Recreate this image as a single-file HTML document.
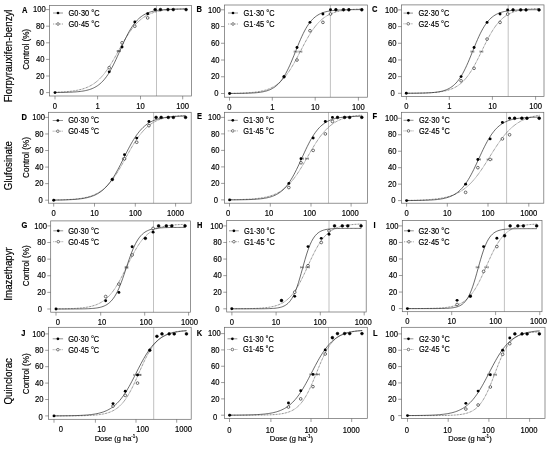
<!DOCTYPE html>
<html lang="en">
<head>
<meta charset="utf-8">
<title>Dose-response curves</title>
<style>
html,body{margin:0;padding:0;background:#fff;}
body{width:550px;height:449px;overflow:hidden;}
svg{display:block;font-family:"Liberation Sans",sans-serif;fill:#000;}
svg text{fill:#000;stroke:#000;stroke-width:0.18px;}
</style>
</head>
<body>
<svg width="550" height="449" viewBox="0 0 550 449">
<rect x="0" y="0" width="550" height="449" fill="#fff"/>
<g id="pA">
<line x1="156.5" y1="5.45" x2="156.5" y2="96" stroke="#bababa" stroke-width="0.9"/>
<polyline points="55,92.52 56.33,92.51 57.65,92.5 58.98,92.48 60.31,92.46 61.63,92.44 62.96,92.42 64.29,92.39 65.62,92.36 66.94,92.32 68.27,92.28 69.6,92.23 70.92,92.17 72.25,92.11 73.58,92.03 74.9,91.95 76.23,91.85 77.56,91.73 78.89,91.6 80.21,91.45 81.54,91.28 82.87,91.08 84.19,90.85 85.52,90.59 86.85,90.29 88.17,89.94 89.5,89.55 90.83,89.1 92.15,88.59 93.48,88 94.81,87.34 96.14,86.59 97.46,85.75 98.79,84.79 100.12,83.72 101.44,82.52 102.77,81.18 104.1,79.7 105.42,78.06 106.75,76.27 108.08,74.31 109.41,72.18 110.73,69.9 112.06,67.46 113.39,64.88 114.71,62.17 116.04,59.35 117.37,56.45 118.69,53.5 120.02,50.51 121.35,47.53 122.68,44.58 124,41.69 125.33,38.9 126.66,36.21 127.98,33.65 129.31,31.24 130.64,28.98 131.96,26.88 133.29,24.95 134.62,23.19 135.94,21.58 137.27,20.12 138.6,18.81 139.93,17.63 141.25,16.58 142.58,15.64 143.91,14.81 145.23,14.08 146.56,13.43 147.89,12.86 149.21,12.36 150.54,11.92 151.87,11.54 153.2,11.2 154.52,10.91 155.85,10.65 157.18,10.43 158.5,10.24 159.83,10.07 161.16,9.92 162.48,9.79 163.81,9.68 165.14,9.58 166.46,9.5 167.79,9.42 169.12,9.36 170.45,9.31 171.77,9.26 173.1,9.22 174.43,9.18 175.75,9.15 177.08,9.12 178.41,9.1 179.73,9.08 181.06,9.06 182.39,9.04 183.72,9.03 185.04,9.02 186.37,9.01" fill="none" stroke="#1a1a1a" stroke-width="0.65"/>
<polyline points="55,92.25 56.33,92.2 57.65,92.15 58.98,92.1 60.31,92.04 61.63,91.97 62.96,91.9 64.29,91.82 65.62,91.72 66.94,91.62 68.27,91.5 69.6,91.37 70.92,91.22 72.25,91.06 73.58,90.88 74.9,90.68 76.23,90.45 77.56,90.2 78.89,89.92 80.21,89.61 81.54,89.26 82.87,88.88 84.19,88.45 85.52,87.98 86.85,87.45 88.17,86.87 89.5,86.23 90.83,85.53 92.15,84.76 93.48,83.91 94.81,82.98 96.14,81.97 97.46,80.87 98.79,79.67 100.12,78.37 101.44,76.97 102.77,75.47 104.1,73.87 105.42,72.16 106.75,70.35 108.08,68.43 109.41,66.43 110.73,64.33 112.06,62.16 113.39,59.91 114.71,57.61 116.04,55.26 117.37,52.89 118.69,50.5 120.02,48.11 121.35,45.73 122.68,43.39 124,41.09 125.33,38.85 126.66,36.68 127.98,34.59 129.31,32.59 130.64,30.69 131.96,28.88 133.29,27.18 134.62,25.58 135.94,24.09 137.27,22.7 138.6,21.41 139.93,20.22 141.25,19.12 142.58,18.11 143.91,17.19 145.23,16.35 146.56,15.58 147.89,14.88 149.21,14.25 150.54,13.67 151.87,13.15 153.2,12.68 154.52,12.26 155.85,11.88 157.18,11.53 158.5,11.22 159.83,10.94 161.16,10.69 162.48,10.47 163.81,10.27 165.14,10.09 166.46,9.93 167.79,9.78 169.12,9.65 170.45,9.54 171.77,9.43 173.1,9.34 174.43,9.26 175.75,9.18 177.08,9.12 178.41,9.06 179.73,9 181.06,8.96 182.39,8.91 183.72,8.88 185.04,8.84 186.37,8.81" fill="none" stroke="#1a1a1a" stroke-width="0.65" stroke-dasharray="0.75 0.75"/>
<line x1="117.9" y1="51.1" x2="120.5" y2="51.1" stroke="#555" stroke-width="0.5"/>
<line x1="117.9" y1="50.1" x2="117.9" y2="52.1" stroke="#555" stroke-width="0.5"/>
<line x1="120.5" y1="50.1" x2="120.5" y2="52.1" stroke="#555" stroke-width="0.5"/>
<line x1="118.3" y1="50.2" x2="120.1" y2="52" stroke="#555" stroke-width="0.45"/>
<line x1="118.3" y1="52" x2="120.1" y2="50.2" stroke="#555" stroke-width="0.45"/>
<line x1="117.1" y1="51.1" x2="119.7" y2="51.1" stroke="#555" stroke-width="0.5"/>
<line x1="117.1" y1="50.1" x2="117.1" y2="52.1" stroke="#555" stroke-width="0.5"/>
<line x1="119.7" y1="50.1" x2="119.7" y2="52.1" stroke="#555" stroke-width="0.5"/>
<line x1="117.5" y1="50.2" x2="119.3" y2="52" stroke="#555" stroke-width="0.45"/>
<line x1="117.5" y1="52" x2="119.3" y2="50.2" stroke="#555" stroke-width="0.45"/>
<circle cx="55" cy="92.6" r="1.45" fill="#000"/>
<circle cx="109.22" cy="67.7" r="1.35" fill="#fff" stroke="#111" stroke-width="0.6"/>
<circle cx="122.03" cy="42.8" r="1.35" fill="#fff" stroke="#111" stroke-width="0.6"/>
<circle cx="134.83" cy="26.2" r="1.35" fill="#fff" stroke="#111" stroke-width="0.6"/>
<circle cx="147.64" cy="17.9" r="1.35" fill="#fff" stroke="#111" stroke-width="0.6"/>
<circle cx="155.14" cy="9.6" r="1.35" fill="#fff" stroke="#111" stroke-width="0.6"/>
<circle cx="160.45" cy="9.6" r="1.35" fill="#fff" stroke="#111" stroke-width="0.6"/>
<circle cx="167.94" cy="9.6" r="1.35" fill="#fff" stroke="#111" stroke-width="0.6"/>
<circle cx="173.26" cy="9.6" r="1.35" fill="#fff" stroke="#111" stroke-width="0.6"/>
<circle cx="186.07" cy="9.6" r="1.35" fill="#fff" stroke="#111" stroke-width="0.6"/>
<circle cx="109.22" cy="71.85" r="1.45" fill="#000"/>
<circle cx="122.03" cy="46.95" r="1.45" fill="#000"/>
<circle cx="134.83" cy="22.05" r="1.45" fill="#000"/>
<circle cx="147.64" cy="13.75" r="1.45" fill="#000"/>
<circle cx="155.14" cy="9.6" r="1.45" fill="#000"/>
<circle cx="160.45" cy="9.6" r="1.45" fill="#000"/>
<circle cx="167.94" cy="9.6" r="1.45" fill="#000"/>
<circle cx="173.26" cy="9.6" r="1.45" fill="#000"/>
<circle cx="186.07" cy="9.6" r="1.45" fill="#000"/>
<rect x="49.5" y="5.45" width="142" height="90.55" fill="none" stroke="#666" stroke-width="0.7"/>
<line x1="46.1" y1="92.6" x2="49.5" y2="92.6" stroke="#5a5a5a" stroke-width="0.6"/>
<text transform="translate(43.7 95.3) scale(0.86 1)" font-size="8.9" text-anchor="end">0</text>
<line x1="46.1" y1="76" x2="49.5" y2="76" stroke="#5a5a5a" stroke-width="0.6"/>
<text transform="translate(44.5 78.7) scale(0.86 1)" font-size="8.9" text-anchor="end">20</text>
<line x1="46.1" y1="59.4" x2="49.5" y2="59.4" stroke="#5a5a5a" stroke-width="0.6"/>
<text transform="translate(44.5 62.1) scale(0.86 1)" font-size="8.9" text-anchor="end">40</text>
<line x1="46.1" y1="42.8" x2="49.5" y2="42.8" stroke="#5a5a5a" stroke-width="0.6"/>
<text transform="translate(44.5 45.5) scale(0.86 1)" font-size="8.9" text-anchor="end">60</text>
<line x1="46.1" y1="26.2" x2="49.5" y2="26.2" stroke="#5a5a5a" stroke-width="0.6"/>
<text transform="translate(44.5 28.9) scale(0.86 1)" font-size="8.9" text-anchor="end">80</text>
<line x1="46.1" y1="9.6" x2="49.5" y2="9.6" stroke="#5a5a5a" stroke-width="0.6"/>
<text transform="translate(45.8 12.3) scale(0.86 1)" font-size="8.9" text-anchor="end">100</text>
<line x1="55" y1="96" x2="55" y2="99.4" stroke="#5a5a5a" stroke-width="0.6"/>
<text transform="translate(55 108.6) scale(0.86 1)" font-size="8.9" text-anchor="middle">0</text>
<line x1="97.6" y1="96" x2="97.6" y2="99.4" stroke="#5a5a5a" stroke-width="0.6"/>
<text transform="translate(97.6 108.6) scale(0.86 1)" font-size="8.9" text-anchor="middle">1</text>
<line x1="140.5" y1="96" x2="140.5" y2="99.4" stroke="#5a5a5a" stroke-width="0.6"/>
<text transform="translate(140.5 108.6) scale(0.86 1)" font-size="8.9" text-anchor="middle">10</text>
<line x1="182.7" y1="96" x2="182.7" y2="99.4" stroke="#5a5a5a" stroke-width="0.6"/>
<text transform="translate(182.7 108.6) scale(0.86 1)" font-size="8.9" text-anchor="middle">100</text>
<line x1="53" y1="13" x2="63" y2="13" stroke="#5a5a5a" stroke-width="0.65"/>
<circle cx="58" cy="13" r="1.35" fill="#000"/>
<line x1="53" y1="24" x2="63" y2="24" stroke="#6a6a6a" stroke-width="0.65" stroke-dasharray="1 0.8"/>
<circle cx="58" cy="24" r="1.3" fill="#fff" stroke="#111" stroke-width="0.55"/>
<text transform="translate(68.6 15.9) scale(0.88 1)" font-size="8.4" text-anchor="start">G0·30 °C</text>
<text transform="translate(68.6 26.9) scale(0.88 1)" font-size="8.4" text-anchor="start">G0·45 °C</text>
<text transform="translate(22 12.9) scale(0.8 1)" font-size="9.4" text-anchor="start" font-weight="bold">A</text>
</g>
<g id="pB">
<line x1="330.4" y1="5" x2="330.4" y2="97.2" stroke="#bababa" stroke-width="0.9"/>
<polyline points="229.6,93.47 230.94,93.46 232.28,93.46 233.62,93.45 234.95,93.44 236.29,93.43 237.63,93.42 238.97,93.4 240.31,93.38 241.65,93.36 242.98,93.34 244.32,93.31 245.66,93.28 247,93.24 248.34,93.2 249.68,93.14 251.02,93.08 252.35,93.01 253.69,92.93 255.03,92.83 256.37,92.72 257.71,92.58 259.05,92.43 260.38,92.24 261.72,92.03 263.06,91.78 264.4,91.49 265.74,91.15 267.08,90.76 268.42,90.3 269.75,89.77 271.09,89.16 272.43,88.46 273.77,87.65 275.11,86.72 276.45,85.66 277.79,84.45 279.12,83.08 280.46,81.53 281.8,79.8 283.14,77.87 284.48,75.74 285.82,73.41 287.15,70.87 288.49,68.14 289.83,65.24 291.17,62.17 292.51,58.99 293.85,55.71 295.19,52.37 296.52,49.03 297.86,45.72 299.2,42.48 300.54,39.35 301.88,36.36 303.22,33.54 304.55,30.91 305.89,28.47 307.23,26.24 308.57,24.21 309.91,22.38 311.25,20.74 312.59,19.28 313.92,18 315.26,16.86 316.6,15.87 317.94,15 319.28,14.24 320.62,13.58 321.95,13.02 323.29,12.53 324.63,12.1 325.97,11.74 327.31,11.42 328.65,11.15 329.99,10.92 331.32,10.73 332.66,10.56 334,10.41 335.34,10.29 336.68,10.18 338.02,10.09 339.35,10.01 340.69,9.95 342.03,9.89 343.37,9.84 344.71,9.8 346.05,9.77 347.39,9.74 348.72,9.71 350.06,9.69 351.4,9.67 352.74,9.65 354.08,9.64 355.42,9.63 356.75,9.62 358.09,9.61 359.43,9.6 360.77,9.6 362.11,9.59" fill="none" stroke="#1a1a1a" stroke-width="0.65"/>
<polyline points="229.6,93.36 230.94,93.34 232.28,93.32 233.62,93.3 234.95,93.27 236.29,93.25 237.63,93.21 238.97,93.18 240.31,93.14 241.65,93.09 242.98,93.04 244.32,92.98 245.66,92.91 247,92.83 248.34,92.75 249.68,92.65 251.02,92.55 252.35,92.43 253.69,92.29 255.03,92.14 256.37,91.96 257.71,91.77 259.05,91.55 260.38,91.31 261.72,91.03 263.06,90.73 264.4,90.38 265.74,90 267.08,89.57 268.42,89.09 269.75,88.56 271.09,87.96 272.43,87.3 273.77,86.57 275.11,85.76 276.45,84.86 277.79,83.88 279.12,82.79 280.46,81.61 281.8,80.32 283.14,78.91 284.48,77.39 285.82,75.75 287.15,74 288.49,72.12 289.83,70.13 291.17,68.02 292.51,65.81 293.85,63.51 295.19,61.12 296.52,58.67 297.86,56.16 299.2,53.61 300.54,51.05 301.88,48.49 303.22,45.94 304.55,43.44 305.89,40.98 307.23,38.6 308.57,36.3 309.91,34.09 311.25,31.99 312.59,30 313.92,28.13 315.26,26.37 316.6,24.74 317.94,23.22 319.28,21.82 320.62,20.53 321.95,19.35 323.29,18.27 324.63,17.29 325.97,16.4 327.31,15.59 328.65,14.86 329.99,14.2 331.32,13.61 332.66,13.07 334,12.59 335.34,12.17 336.68,11.78 338.02,11.44 339.35,11.13 340.69,10.86 342.03,10.62 343.37,10.4 344.71,10.21 346.05,10.04 347.39,9.88 348.72,9.75 350.06,9.63 351.4,9.52 352.74,9.42 354.08,9.34 355.42,9.26 356.75,9.2 358.09,9.14 359.43,9.09 360.77,9.04 362.11,9" fill="none" stroke="#1a1a1a" stroke-width="0.65" stroke-dasharray="0.75 0.75"/>
<line x1="294.1" y1="51.65" x2="297.1" y2="51.65" stroke="#555" stroke-width="0.5"/>
<line x1="294.1" y1="50.65" x2="294.1" y2="52.65" stroke="#555" stroke-width="0.5"/>
<line x1="297.1" y1="50.65" x2="297.1" y2="52.65" stroke="#555" stroke-width="0.5"/>
<line x1="294.7" y1="50.75" x2="296.5" y2="52.55" stroke="#555" stroke-width="0.45"/>
<line x1="294.7" y1="52.55" x2="296.5" y2="50.75" stroke="#555" stroke-width="0.45"/>
<line x1="298.9" y1="51.65" x2="301.9" y2="51.65" stroke="#555" stroke-width="0.5"/>
<line x1="298.9" y1="50.65" x2="298.9" y2="52.65" stroke="#555" stroke-width="0.5"/>
<line x1="301.9" y1="50.65" x2="301.9" y2="52.65" stroke="#555" stroke-width="0.5"/>
<line x1="299.5" y1="50.75" x2="301.3" y2="52.55" stroke="#555" stroke-width="0.45"/>
<line x1="299.5" y1="52.55" x2="301.3" y2="50.75" stroke="#555" stroke-width="0.45"/>
<circle cx="229.6" cy="93.5" r="1.45" fill="#000"/>
<circle cx="284.05" cy="76.76" r="1.35" fill="#fff" stroke="#111" stroke-width="0.6"/>
<circle cx="297.01" cy="60.02" r="1.35" fill="#fff" stroke="#111" stroke-width="0.6"/>
<circle cx="309.97" cy="30.72" r="1.35" fill="#fff" stroke="#111" stroke-width="0.6"/>
<circle cx="322.93" cy="22.35" r="1.35" fill="#fff" stroke="#111" stroke-width="0.6"/>
<circle cx="330.51" cy="13.98" r="1.35" fill="#fff" stroke="#111" stroke-width="0.6"/>
<circle cx="335.89" cy="9.8" r="1.35" fill="#fff" stroke="#111" stroke-width="0.6"/>
<circle cx="343.47" cy="9.8" r="1.35" fill="#fff" stroke="#111" stroke-width="0.6"/>
<circle cx="348.85" cy="9.8" r="1.35" fill="#fff" stroke="#111" stroke-width="0.6"/>
<circle cx="361.81" cy="9.8" r="1.35" fill="#fff" stroke="#111" stroke-width="0.6"/>
<circle cx="284.05" cy="76.76" r="1.45" fill="#000"/>
<circle cx="297.01" cy="47.46" r="1.45" fill="#000"/>
<circle cx="309.97" cy="22.35" r="1.45" fill="#000"/>
<circle cx="322.93" cy="13.98" r="1.45" fill="#000"/>
<circle cx="330.51" cy="9.8" r="1.45" fill="#000"/>
<circle cx="335.89" cy="9.8" r="1.45" fill="#000"/>
<circle cx="343.47" cy="9.8" r="1.45" fill="#000"/>
<circle cx="348.85" cy="9.8" r="1.45" fill="#000"/>
<circle cx="361.81" cy="9.8" r="1.45" fill="#000"/>
<rect x="224.4" y="5" width="143" height="92.2" fill="none" stroke="#666" stroke-width="0.7"/>
<line x1="221" y1="93.5" x2="224.4" y2="93.5" stroke="#5a5a5a" stroke-width="0.6"/>
<text transform="translate(218.6 96.2) scale(0.86 1)" font-size="8.9" text-anchor="end">0</text>
<line x1="221" y1="76.76" x2="224.4" y2="76.76" stroke="#5a5a5a" stroke-width="0.6"/>
<text transform="translate(219.4 79.46) scale(0.86 1)" font-size="8.9" text-anchor="end">20</text>
<line x1="221" y1="60.02" x2="224.4" y2="60.02" stroke="#5a5a5a" stroke-width="0.6"/>
<text transform="translate(219.4 62.72) scale(0.86 1)" font-size="8.9" text-anchor="end">40</text>
<line x1="221" y1="43.28" x2="224.4" y2="43.28" stroke="#5a5a5a" stroke-width="0.6"/>
<text transform="translate(219.4 45.98) scale(0.86 1)" font-size="8.9" text-anchor="end">60</text>
<line x1="221" y1="26.54" x2="224.4" y2="26.54" stroke="#5a5a5a" stroke-width="0.6"/>
<text transform="translate(219.4 29.24) scale(0.86 1)" font-size="8.9" text-anchor="end">80</text>
<line x1="221" y1="9.8" x2="224.4" y2="9.8" stroke="#5a5a5a" stroke-width="0.6"/>
<text transform="translate(220.7 12.5) scale(0.86 1)" font-size="8.9" text-anchor="end">100</text>
<line x1="229.5" y1="97.2" x2="229.5" y2="100.6" stroke="#5a5a5a" stroke-width="0.6"/>
<text transform="translate(229.5 109.7) scale(0.86 1)" font-size="8.9" text-anchor="middle">0</text>
<line x1="272.3" y1="97.2" x2="272.3" y2="100.6" stroke="#5a5a5a" stroke-width="0.6"/>
<text transform="translate(272.3 109.7) scale(0.86 1)" font-size="8.9" text-anchor="middle">1</text>
<line x1="315.2" y1="97.2" x2="315.2" y2="100.6" stroke="#5a5a5a" stroke-width="0.6"/>
<text transform="translate(315.2 109.7) scale(0.86 1)" font-size="8.9" text-anchor="middle">10</text>
<line x1="358.4" y1="97.2" x2="358.4" y2="100.6" stroke="#5a5a5a" stroke-width="0.6"/>
<text transform="translate(358.4 109.7) scale(0.86 1)" font-size="8.9" text-anchor="middle">100</text>
<line x1="228" y1="13" x2="238" y2="13" stroke="#5a5a5a" stroke-width="0.65"/>
<circle cx="233" cy="13" r="1.35" fill="#000"/>
<line x1="228" y1="24" x2="238" y2="24" stroke="#6a6a6a" stroke-width="0.65" stroke-dasharray="1 0.8"/>
<circle cx="233" cy="24" r="1.3" fill="#fff" stroke="#111" stroke-width="0.55"/>
<text transform="translate(243.6 15.9) scale(0.88 1)" font-size="8.4" text-anchor="start">G1·30 °C</text>
<text transform="translate(243.6 26.9) scale(0.88 1)" font-size="8.4" text-anchor="start">G1·45 °C</text>
<text transform="translate(196.6 12.3) scale(0.8 1)" font-size="9.4" text-anchor="start" font-weight="bold">B</text>
</g>
<g id="pC">
<line x1="508.2" y1="4.9" x2="508.2" y2="96.4" stroke="#bababa" stroke-width="0.9"/>
<polyline points="406.3,93.27 407.64,93.26 408.99,93.26 410.33,93.25 411.67,93.24 413.02,93.23 414.36,93.22 415.71,93.2 417.05,93.19 418.39,93.17 419.74,93.14 421.08,93.12 422.42,93.08 423.77,93.05 425.11,93 426.45,92.95 427.8,92.89 429.14,92.82 430.48,92.74 431.83,92.65 433.17,92.53 434.52,92.4 435.86,92.25 437.2,92.07 438.55,91.86 439.89,91.62 441.23,91.33 442.58,91 443.92,90.61 445.26,90.17 446.61,89.65 447.95,89.05 449.3,88.35 450.64,87.56 451.98,86.64 453.33,85.59 454.67,84.4 456.01,83.05 457.36,81.52 458.7,79.81 460.04,77.91 461.39,75.8 462.73,73.49 464.07,70.98 465.42,68.27 466.76,65.38 468.11,62.34 469.45,59.16 470.79,55.9 472.14,52.57 473.48,49.24 474.82,45.93 476.17,42.69 477.51,39.56 478.85,36.57 480.2,33.74 481.54,31.1 482.89,28.65 484.23,26.41 485.57,24.37 486.92,22.54 488.26,20.89 489.6,19.43 490.95,18.13 492.29,16.99 493.63,15.99 494.98,15.12 496.32,14.36 497.66,13.7 499.01,13.13 500.35,12.64 501.7,12.21 503.04,11.84 504.38,11.53 505.73,11.26 507.07,11.03 508.41,10.83 509.76,10.66 511.1,10.51 512.44,10.39 513.79,10.28 515.13,10.19 516.48,10.11 517.82,10.05 519.16,9.99 520.51,9.94 521.85,9.9 523.19,9.87 524.54,9.84 525.88,9.81 527.22,9.79 528.57,9.77 529.91,9.76 531.26,9.74 532.6,9.73 533.94,9.72 535.29,9.71 536.63,9.71 537.97,9.7 539.32,9.69" fill="none" stroke="#1a1a1a" stroke-width="0.65"/>
<polyline points="406.3,93.24 407.64,93.23 408.99,93.23 410.33,93.22 411.67,93.2 413.02,93.19 414.36,93.17 415.71,93.16 417.05,93.14 418.39,93.12 419.74,93.09 421.08,93.06 422.42,93.03 423.77,92.99 425.11,92.95 426.45,92.9 427.8,92.84 429.14,92.78 430.48,92.71 431.83,92.63 433.17,92.54 434.52,92.43 435.86,92.31 437.2,92.18 438.55,92.02 439.89,91.85 441.23,91.65 442.58,91.43 443.92,91.18 445.26,90.89 446.61,90.57 447.95,90.21 449.3,89.79 450.64,89.33 451.98,88.81 453.33,88.23 454.67,87.57 456.01,86.84 457.36,86.02 458.7,85.11 460.04,84.09 461.39,82.97 462.73,81.74 464.07,80.38 465.42,78.89 466.76,77.27 468.11,75.51 469.45,73.62 470.79,71.59 472.14,69.42 473.48,67.13 474.82,64.72 476.17,62.21 477.51,59.61 478.85,56.93 480.2,54.21 481.54,51.46 482.89,48.7 484.23,45.95 485.57,43.25 486.92,40.61 488.26,38.05 489.6,35.58 490.95,33.23 492.29,31 493.63,28.89 494.98,26.93 496.32,25.1 497.66,23.41 499.01,21.85 500.35,20.43 501.7,19.13 503.04,17.95 504.38,16.88 505.73,15.91 507.07,15.05 508.41,14.27 509.76,13.58 511.1,12.95 512.44,12.4 513.79,11.91 515.13,11.47 516.48,11.08 517.82,10.74 519.16,10.43 520.51,10.17 521.85,9.93 523.19,9.72 524.54,9.53 525.88,9.37 527.22,9.22 528.57,9.1 529.91,8.98 531.26,8.89 532.6,8.8 533.94,8.72 535.29,8.66 536.63,8.6 537.97,8.54 539.32,8.5" fill="none" stroke="#1a1a1a" stroke-width="0.65" stroke-dasharray="0.75 0.75"/>
<line x1="470.9" y1="51.6" x2="473.9" y2="51.6" stroke="#555" stroke-width="0.5"/>
<line x1="470.9" y1="50.6" x2="470.9" y2="52.6" stroke="#555" stroke-width="0.5"/>
<line x1="473.9" y1="50.6" x2="473.9" y2="52.6" stroke="#555" stroke-width="0.5"/>
<line x1="471.5" y1="50.7" x2="473.3" y2="52.5" stroke="#555" stroke-width="0.45"/>
<line x1="471.5" y1="52.5" x2="473.3" y2="50.7" stroke="#555" stroke-width="0.45"/>
<line x1="479.9" y1="51.6" x2="482.9" y2="51.6" stroke="#555" stroke-width="0.5"/>
<line x1="479.9" y1="50.6" x2="479.9" y2="52.6" stroke="#555" stroke-width="0.5"/>
<line x1="482.9" y1="50.6" x2="482.9" y2="52.6" stroke="#555" stroke-width="0.5"/>
<line x1="480.5" y1="50.7" x2="482.3" y2="52.5" stroke="#555" stroke-width="0.45"/>
<line x1="480.5" y1="52.5" x2="482.3" y2="50.7" stroke="#555" stroke-width="0.45"/>
<circle cx="406.3" cy="93.3" r="1.45" fill="#000"/>
<circle cx="461.08" cy="80.79" r="1.35" fill="#fff" stroke="#111" stroke-width="0.6"/>
<circle cx="474.07" cy="68.28" r="1.35" fill="#fff" stroke="#111" stroke-width="0.6"/>
<circle cx="487.06" cy="39.09" r="1.35" fill="#fff" stroke="#111" stroke-width="0.6"/>
<circle cx="500.05" cy="22.41" r="1.35" fill="#fff" stroke="#111" stroke-width="0.6"/>
<circle cx="507.65" cy="14.07" r="1.35" fill="#fff" stroke="#111" stroke-width="0.6"/>
<circle cx="513.04" cy="9.9" r="1.35" fill="#fff" stroke="#111" stroke-width="0.6"/>
<circle cx="520.64" cy="9.9" r="1.35" fill="#fff" stroke="#111" stroke-width="0.6"/>
<circle cx="526.03" cy="9.9" r="1.35" fill="#fff" stroke="#111" stroke-width="0.6"/>
<circle cx="539.02" cy="9.9" r="1.35" fill="#fff" stroke="#111" stroke-width="0.6"/>
<circle cx="461.08" cy="76.62" r="1.45" fill="#000"/>
<circle cx="474.07" cy="47.43" r="1.45" fill="#000"/>
<circle cx="487.06" cy="22.41" r="1.45" fill="#000"/>
<circle cx="500.05" cy="14.07" r="1.45" fill="#000"/>
<circle cx="507.65" cy="9.9" r="1.45" fill="#000"/>
<circle cx="513.04" cy="9.9" r="1.45" fill="#000"/>
<circle cx="520.64" cy="9.9" r="1.45" fill="#000"/>
<circle cx="526.03" cy="9.9" r="1.45" fill="#000"/>
<circle cx="539.02" cy="9.9" r="1.45" fill="#000"/>
<rect x="401.4" y="4.9" width="142.6" height="91.5" fill="none" stroke="#666" stroke-width="0.7"/>
<line x1="398" y1="93.3" x2="401.4" y2="93.3" stroke="#5a5a5a" stroke-width="0.6"/>
<text transform="translate(394.8 96) scale(0.86 1)" font-size="8.9" text-anchor="end">0</text>
<line x1="398" y1="76.62" x2="401.4" y2="76.62" stroke="#5a5a5a" stroke-width="0.6"/>
<text transform="translate(396.4 79.32) scale(0.86 1)" font-size="8.9" text-anchor="end">20</text>
<line x1="398" y1="59.94" x2="401.4" y2="59.94" stroke="#5a5a5a" stroke-width="0.6"/>
<text transform="translate(396.4 62.64) scale(0.86 1)" font-size="8.9" text-anchor="end">40</text>
<line x1="398" y1="43.26" x2="401.4" y2="43.26" stroke="#5a5a5a" stroke-width="0.6"/>
<text transform="translate(396.4 45.96) scale(0.86 1)" font-size="8.9" text-anchor="end">60</text>
<line x1="398" y1="26.58" x2="401.4" y2="26.58" stroke="#5a5a5a" stroke-width="0.6"/>
<text transform="translate(396.4 29.28) scale(0.86 1)" font-size="8.9" text-anchor="end">80</text>
<line x1="398" y1="9.9" x2="401.4" y2="9.9" stroke="#5a5a5a" stroke-width="0.6"/>
<text transform="translate(397.7 12.6) scale(0.86 1)" font-size="8.9" text-anchor="end">100</text>
<line x1="406.4" y1="96.4" x2="406.4" y2="99.8" stroke="#5a5a5a" stroke-width="0.6"/>
<text transform="translate(406.4 109) scale(0.86 1)" font-size="8.9" text-anchor="middle">0</text>
<line x1="449.3" y1="96.4" x2="449.3" y2="99.8" stroke="#5a5a5a" stroke-width="0.6"/>
<text transform="translate(449.3 109) scale(0.86 1)" font-size="8.9" text-anchor="middle">1</text>
<line x1="492.4" y1="96.4" x2="492.4" y2="99.8" stroke="#5a5a5a" stroke-width="0.6"/>
<text transform="translate(492.4 109) scale(0.86 1)" font-size="8.9" text-anchor="middle">10</text>
<line x1="535.6" y1="96.4" x2="535.6" y2="99.8" stroke="#5a5a5a" stroke-width="0.6"/>
<text transform="translate(535.6 109) scale(0.86 1)" font-size="8.9" text-anchor="middle">100</text>
<line x1="403.5" y1="13.1" x2="413" y2="13.1" stroke="#5a5a5a" stroke-width="0.65"/>
<circle cx="408.25" cy="13.1" r="1.35" fill="#000"/>
<line x1="403.5" y1="23.8" x2="413" y2="23.8" stroke="#6a6a6a" stroke-width="0.65" stroke-dasharray="1 0.8"/>
<circle cx="408.25" cy="23.8" r="1.3" fill="#fff" stroke="#111" stroke-width="0.55"/>
<text transform="translate(418.5 16) scale(0.88 1)" font-size="8.4" text-anchor="start">G2·30 °C</text>
<text transform="translate(418.5 26.7) scale(0.88 1)" font-size="8.4" text-anchor="start">G2·45 °C</text>
<text transform="translate(372.1 12.4) scale(0.8 1)" font-size="9.4" text-anchor="start" font-weight="bold">C</text>
</g>
<g id="pD">
<line x1="153.6" y1="112.3" x2="153.6" y2="203.2" stroke="#bababa" stroke-width="0.9"/>
<polyline points="53.7,200.09 55.03,200.08 56.37,200.06 57.7,200.04 59.04,200.02 60.37,200 61.71,199.97 63.04,199.94 64.38,199.9 65.71,199.86 67.05,199.82 68.38,199.76 69.72,199.7 71.05,199.64 72.39,199.56 73.72,199.48 75.06,199.38 76.39,199.27 77.73,199.15 79.06,199.01 80.4,198.85 81.73,198.67 83.07,198.47 84.4,198.24 85.74,197.98 87.07,197.69 88.41,197.36 89.74,196.99 91.08,196.58 92.41,196.11 93.75,195.59 95.08,195.01 96.42,194.35 97.75,193.62 99.09,192.81 100.42,191.91 101.76,190.91 103.09,189.81 104.43,188.6 105.76,187.28 107.1,185.83 108.43,184.25 109.77,182.55 111.1,180.71 112.44,178.75 113.77,176.66 115.11,174.45 116.44,172.13 117.78,169.7 119.11,167.2 120.45,164.62 121.78,161.99 123.12,159.32 124.45,156.65 125.78,153.99 127.12,151.36 128.45,148.78 129.79,146.27 131.12,143.85 132.46,141.53 133.79,139.33 135.13,137.24 136.46,135.28 137.8,133.45 139.13,131.75 140.47,130.17 141.8,128.73 143.14,127.4 144.47,126.2 145.81,125.1 147.14,124.1 148.48,123.21 149.81,122.4 151.15,121.67 152.48,121.02 153.82,120.43 155.15,119.91 156.49,119.45 157.82,119.04 159.16,118.67 160.49,118.34 161.83,118.05 163.16,117.79 164.5,117.56 165.83,117.36 167.17,117.18 168.5,117.03 169.84,116.89 171.17,116.76 172.51,116.65 173.84,116.56 175.18,116.47 176.51,116.4 177.85,116.33 179.18,116.27 180.52,116.22 181.85,116.18 183.19,116.14 184.52,116.1 185.86,116.07" fill="none" stroke="#1a1a1a" stroke-width="0.65"/>
<polyline points="53.7,200.01 55.03,199.99 56.37,199.96 57.7,199.94 59.04,199.91 60.37,199.87 61.71,199.83 63.04,199.79 64.38,199.74 65.71,199.68 67.05,199.62 68.38,199.55 69.72,199.48 71.05,199.39 72.39,199.29 73.72,199.19 75.06,199.07 76.39,198.93 77.73,198.78 79.06,198.62 80.4,198.43 81.73,198.23 83.07,197.99 84.4,197.74 85.74,197.45 87.07,197.14 88.41,196.78 89.74,196.39 91.08,195.96 92.41,195.48 93.75,194.95 95.08,194.37 96.42,193.72 97.75,193.01 99.09,192.23 100.42,191.37 101.76,190.44 103.09,189.42 104.43,188.31 105.76,187.1 107.1,185.8 108.43,184.39 109.77,182.88 111.1,181.27 112.44,179.55 113.77,177.73 115.11,175.81 116.44,173.79 117.78,171.69 119.11,169.5 120.45,167.25 121.78,164.93 123.12,162.57 124.45,160.18 125.78,157.77 127.12,155.36 128.45,152.97 129.79,150.6 131.12,148.27 132.46,146 133.79,143.8 135.13,141.68 136.46,139.65 137.8,137.71 139.13,135.87 140.47,134.13 141.8,132.5 143.14,130.97 144.47,129.54 145.81,128.22 147.14,126.99 148.48,125.86 149.81,124.83 151.15,123.87 152.48,123 153.82,122.21 155.15,121.48 156.49,120.83 157.82,120.23 159.16,119.69 160.49,119.2 161.83,118.76 163.16,118.36 164.5,118 165.83,117.67 167.17,117.38 168.5,117.12 169.84,116.89 171.17,116.68 172.51,116.49 173.84,116.32 175.18,116.16 176.51,116.03 177.85,115.9 179.18,115.79 180.52,115.7 181.85,115.61 183.19,115.53 184.52,115.46 185.86,115.4" fill="none" stroke="#1a1a1a" stroke-width="0.65" stroke-dasharray="0.75 0.75"/>
<line x1="122.4" y1="158.8" x2="124.8" y2="158.8" stroke="#555" stroke-width="0.5"/>
<line x1="122.4" y1="157.8" x2="122.4" y2="159.8" stroke="#555" stroke-width="0.5"/>
<line x1="124.8" y1="157.8" x2="124.8" y2="159.8" stroke="#555" stroke-width="0.5"/>
<line x1="122.7" y1="157.9" x2="124.5" y2="159.7" stroke="#555" stroke-width="0.45"/>
<line x1="122.7" y1="159.7" x2="124.5" y2="157.9" stroke="#555" stroke-width="0.45"/>
<line x1="123.2" y1="158.8" x2="125.6" y2="158.8" stroke="#555" stroke-width="0.5"/>
<line x1="123.2" y1="157.8" x2="123.2" y2="159.8" stroke="#555" stroke-width="0.5"/>
<line x1="125.6" y1="157.8" x2="125.6" y2="159.8" stroke="#555" stroke-width="0.5"/>
<line x1="123.5" y1="157.9" x2="125.3" y2="159.7" stroke="#555" stroke-width="0.45"/>
<line x1="123.5" y1="159.7" x2="125.3" y2="157.9" stroke="#555" stroke-width="0.45"/>
<circle cx="53.7" cy="200.2" r="1.45" fill="#000"/>
<circle cx="112.31" cy="179.5" r="1.35" fill="#fff" stroke="#111" stroke-width="0.6"/>
<circle cx="124.52" cy="158.8" r="1.35" fill="#fff" stroke="#111" stroke-width="0.6"/>
<circle cx="136.73" cy="142.24" r="1.35" fill="#fff" stroke="#111" stroke-width="0.6"/>
<circle cx="148.94" cy="125.68" r="1.35" fill="#fff" stroke="#111" stroke-width="0.6"/>
<circle cx="156.08" cy="117.4" r="1.35" fill="#fff" stroke="#111" stroke-width="0.6"/>
<circle cx="161.14" cy="117.4" r="1.35" fill="#fff" stroke="#111" stroke-width="0.6"/>
<circle cx="168.28" cy="117.4" r="1.35" fill="#fff" stroke="#111" stroke-width="0.6"/>
<circle cx="173.35" cy="117.4" r="1.35" fill="#fff" stroke="#111" stroke-width="0.6"/>
<circle cx="185.56" cy="117.4" r="1.35" fill="#fff" stroke="#111" stroke-width="0.6"/>
<circle cx="112.31" cy="179.5" r="1.45" fill="#000"/>
<circle cx="124.52" cy="154.66" r="1.45" fill="#000"/>
<circle cx="136.73" cy="138.1" r="1.45" fill="#000"/>
<circle cx="148.94" cy="121.54" r="1.45" fill="#000"/>
<circle cx="156.08" cy="117.4" r="1.45" fill="#000"/>
<circle cx="161.14" cy="117.4" r="1.45" fill="#000"/>
<circle cx="168.28" cy="117.4" r="1.45" fill="#000"/>
<circle cx="173.35" cy="117.4" r="1.45" fill="#000"/>
<circle cx="185.56" cy="117.4" r="1.45" fill="#000"/>
<rect x="48.6" y="112.3" width="142.6" height="90.9" fill="none" stroke="#666" stroke-width="0.7"/>
<line x1="45.2" y1="200.2" x2="48.6" y2="200.2" stroke="#5a5a5a" stroke-width="0.6"/>
<text transform="translate(42.8 202.9) scale(0.86 1)" font-size="8.9" text-anchor="end">0</text>
<line x1="45.2" y1="183.64" x2="48.6" y2="183.64" stroke="#5a5a5a" stroke-width="0.6"/>
<text transform="translate(43.6 186.34) scale(0.86 1)" font-size="8.9" text-anchor="end">20</text>
<line x1="45.2" y1="167.08" x2="48.6" y2="167.08" stroke="#5a5a5a" stroke-width="0.6"/>
<text transform="translate(43.6 169.78) scale(0.86 1)" font-size="8.9" text-anchor="end">40</text>
<line x1="45.2" y1="150.52" x2="48.6" y2="150.52" stroke="#5a5a5a" stroke-width="0.6"/>
<text transform="translate(43.6 153.22) scale(0.86 1)" font-size="8.9" text-anchor="end">60</text>
<line x1="45.2" y1="133.96" x2="48.6" y2="133.96" stroke="#5a5a5a" stroke-width="0.6"/>
<text transform="translate(43.6 136.66) scale(0.86 1)" font-size="8.9" text-anchor="end">80</text>
<line x1="45.2" y1="117.4" x2="48.6" y2="117.4" stroke="#5a5a5a" stroke-width="0.6"/>
<text transform="translate(44.9 120.1) scale(0.86 1)" font-size="8.9" text-anchor="end">100</text>
<line x1="53.7" y1="203.2" x2="53.7" y2="206.6" stroke="#5a5a5a" stroke-width="0.6"/>
<text transform="translate(53.7 216.2) scale(0.86 1)" font-size="8.9" text-anchor="middle">0</text>
<line x1="94.5" y1="203.2" x2="94.5" y2="206.6" stroke="#5a5a5a" stroke-width="0.6"/>
<text transform="translate(94.5 216.2) scale(0.86 1)" font-size="8.9" text-anchor="middle">10</text>
<line x1="135.3" y1="203.2" x2="135.3" y2="206.6" stroke="#5a5a5a" stroke-width="0.6"/>
<text transform="translate(135.3 216.2) scale(0.86 1)" font-size="8.9" text-anchor="middle">100</text>
<line x1="175.6" y1="203.2" x2="175.6" y2="206.6" stroke="#5a5a5a" stroke-width="0.6"/>
<text transform="translate(175.6 216.2) scale(0.86 1)" font-size="8.9" text-anchor="middle">1000</text>
<line x1="52.7" y1="120.5" x2="63" y2="120.5" stroke="#5a5a5a" stroke-width="0.65"/>
<circle cx="57.85" cy="120.5" r="1.35" fill="#000"/>
<line x1="52.7" y1="131.2" x2="63" y2="131.2" stroke="#6a6a6a" stroke-width="0.65" stroke-dasharray="1 0.8"/>
<circle cx="57.85" cy="131.2" r="1.3" fill="#fff" stroke="#111" stroke-width="0.55"/>
<text transform="translate(68.3 123.4) scale(0.88 1)" font-size="8.4" text-anchor="start">G0·30 °C</text>
<text transform="translate(68.3 134.1) scale(0.88 1)" font-size="8.4" text-anchor="start">G0·45 °C</text>
<text transform="translate(21.6 119.5) scale(0.8 1)" font-size="9.4" text-anchor="start" font-weight="bold">D</text>
</g>
<g id="pE">
<line x1="328.5" y1="112.3" x2="328.5" y2="203.2" stroke="#bababa" stroke-width="0.9"/>
<polyline points="229.6,199.86 230.94,199.85 232.28,199.84 233.62,199.84 234.95,199.83 236.29,199.82 237.63,199.8 238.97,199.79 240.31,199.77 241.65,199.75 242.99,199.73 244.32,199.7 245.66,199.68 247,199.64 248.34,199.6 249.68,199.56 251.02,199.51 252.36,199.45 253.69,199.38 255.03,199.3 256.37,199.21 257.71,199.11 259.05,198.99 260.39,198.85 261.73,198.7 263.06,198.52 264.4,198.31 265.74,198.08 267.08,197.81 268.42,197.5 269.76,197.15 271.1,196.75 272.43,196.29 273.77,195.77 275.11,195.18 276.45,194.52 277.79,193.76 279.13,192.91 280.47,191.95 281.8,190.88 283.14,189.68 284.48,188.35 285.82,186.87 287.16,185.25 288.5,183.47 289.84,181.52 291.17,179.42 292.51,177.17 293.85,174.76 295.19,172.21 296.53,169.54 297.87,166.77 299.21,163.91 300.54,160.99 301.88,158.04 303.22,155.1 304.56,152.18 305.9,149.32 307.24,146.54 308.58,143.86 309.91,141.31 311.25,138.9 312.59,136.64 313.93,134.53 315.27,132.59 316.61,130.8 317.95,129.17 319.28,127.69 320.62,126.35 321.96,125.15 323.3,124.07 324.64,123.11 325.98,122.26 327.32,121.5 328.65,120.83 329.99,120.24 331.33,119.72 332.67,119.26 334.01,118.86 335.35,118.51 336.69,118.2 338.02,117.93 339.36,117.69 340.7,117.48 342.04,117.3 343.38,117.15 344.72,117.01 346.06,116.89 347.39,116.79 348.73,116.7 350.07,116.62 351.41,116.55 352.75,116.49 354.09,116.44 355.43,116.39 356.76,116.35 358.1,116.32 359.44,116.29 360.78,116.26 362.12,116.24" fill="none" stroke="#1a1a1a" stroke-width="0.65"/>
<polyline points="229.6,199.75 230.94,199.73 232.28,199.71 233.62,199.69 234.95,199.67 236.29,199.64 237.63,199.61 238.97,199.57 240.31,199.54 241.65,199.5 242.99,199.45 244.32,199.4 245.66,199.34 247,199.28 248.34,199.21 249.68,199.13 251.02,199.04 252.36,198.94 253.69,198.83 255.03,198.71 256.37,198.58 257.71,198.43 259.05,198.26 260.39,198.08 261.73,197.87 263.06,197.64 264.4,197.39 265.74,197.11 267.08,196.8 268.42,196.46 269.76,196.09 271.1,195.67 272.43,195.21 273.77,194.7 275.11,194.14 276.45,193.53 277.79,192.86 279.13,192.12 280.47,191.32 281.8,190.44 283.14,189.49 284.48,188.45 285.82,187.32 287.16,186.11 288.5,184.8 289.84,183.4 291.17,181.9 292.51,180.31 293.85,178.61 295.19,176.82 296.53,174.94 297.87,172.97 299.21,170.92 300.54,168.8 301.88,166.61 303.22,164.37 304.56,162.08 305.9,159.77 307.24,157.44 308.58,155.1 309.91,152.78 311.25,150.48 312.59,148.22 313.93,146.01 315.27,143.86 316.61,141.79 317.95,139.78 319.28,137.87 320.62,136.05 321.96,134.32 323.3,132.68 324.64,131.15 325.98,129.71 327.32,128.37 328.65,127.12 329.99,125.96 331.33,124.89 332.67,123.91 334.01,123 335.35,122.17 336.69,121.41 338.02,120.71 339.36,120.08 340.7,119.5 342.04,118.98 343.38,118.5 344.72,118.07 346.06,117.67 347.39,117.32 348.73,117 350.07,116.71 351.41,116.45 352.75,116.21 354.09,116 355.43,115.81 356.76,115.63 358.1,115.48 359.44,115.34 360.78,115.21 362.12,115.1" fill="none" stroke="#1a1a1a" stroke-width="0.65" stroke-dasharray="0.75 0.75"/>
<line x1="300.5" y1="158.65" x2="303.5" y2="158.65" stroke="#555" stroke-width="0.5"/>
<line x1="300.5" y1="157.65" x2="300.5" y2="159.65" stroke="#555" stroke-width="0.5"/>
<line x1="303.5" y1="157.65" x2="303.5" y2="159.65" stroke="#555" stroke-width="0.5"/>
<line x1="301.1" y1="157.75" x2="302.9" y2="159.55" stroke="#555" stroke-width="0.45"/>
<line x1="301.1" y1="159.55" x2="302.9" y2="157.75" stroke="#555" stroke-width="0.45"/>
<line x1="305.5" y1="158.65" x2="308.5" y2="158.65" stroke="#555" stroke-width="0.5"/>
<line x1="305.5" y1="157.65" x2="305.5" y2="159.65" stroke="#555" stroke-width="0.5"/>
<line x1="308.5" y1="157.65" x2="308.5" y2="159.65" stroke="#555" stroke-width="0.5"/>
<line x1="306.1" y1="157.75" x2="307.9" y2="159.55" stroke="#555" stroke-width="0.45"/>
<line x1="306.1" y1="159.55" x2="307.9" y2="157.75" stroke="#555" stroke-width="0.45"/>
<circle cx="229.6" cy="199.9" r="1.45" fill="#000"/>
<circle cx="288.85" cy="187.53" r="1.35" fill="#fff" stroke="#111" stroke-width="0.6"/>
<circle cx="301.01" cy="162.78" r="1.35" fill="#fff" stroke="#111" stroke-width="0.6"/>
<circle cx="313.17" cy="150.4" r="1.35" fill="#fff" stroke="#111" stroke-width="0.6"/>
<circle cx="325.33" cy="133.9" r="1.35" fill="#fff" stroke="#111" stroke-width="0.6"/>
<circle cx="332.45" cy="121.53" r="1.35" fill="#fff" stroke="#111" stroke-width="0.6"/>
<circle cx="337.5" cy="117.4" r="1.35" fill="#fff" stroke="#111" stroke-width="0.6"/>
<circle cx="344.61" cy="117.4" r="1.35" fill="#fff" stroke="#111" stroke-width="0.6"/>
<circle cx="349.66" cy="117.4" r="1.35" fill="#fff" stroke="#111" stroke-width="0.6"/>
<circle cx="361.82" cy="117.4" r="1.35" fill="#fff" stroke="#111" stroke-width="0.6"/>
<circle cx="288.85" cy="183.4" r="1.45" fill="#000"/>
<circle cx="301.01" cy="158.65" r="1.45" fill="#000"/>
<circle cx="313.17" cy="138.03" r="1.45" fill="#000"/>
<circle cx="325.33" cy="121.53" r="1.45" fill="#000"/>
<circle cx="332.45" cy="117.4" r="1.45" fill="#000"/>
<circle cx="337.5" cy="117.4" r="1.45" fill="#000"/>
<circle cx="344.61" cy="117.4" r="1.45" fill="#000"/>
<circle cx="349.66" cy="117.4" r="1.45" fill="#000"/>
<circle cx="361.82" cy="117.4" r="1.45" fill="#000"/>
<rect x="224.5" y="112.3" width="142.9" height="90.9" fill="none" stroke="#666" stroke-width="0.7"/>
<line x1="221.1" y1="199.9" x2="224.5" y2="199.9" stroke="#5a5a5a" stroke-width="0.6"/>
<text transform="translate(218.1 202.6) scale(0.86 1)" font-size="8.9" text-anchor="end">0</text>
<line x1="221.1" y1="183.4" x2="224.5" y2="183.4" stroke="#5a5a5a" stroke-width="0.6"/>
<text transform="translate(219.5 186.1) scale(0.86 1)" font-size="8.9" text-anchor="end">20</text>
<line x1="221.1" y1="166.9" x2="224.5" y2="166.9" stroke="#5a5a5a" stroke-width="0.6"/>
<text transform="translate(219.5 169.6) scale(0.86 1)" font-size="8.9" text-anchor="end">40</text>
<line x1="221.1" y1="150.4" x2="224.5" y2="150.4" stroke="#5a5a5a" stroke-width="0.6"/>
<text transform="translate(219.5 153.1) scale(0.86 1)" font-size="8.9" text-anchor="end">60</text>
<line x1="221.1" y1="133.9" x2="224.5" y2="133.9" stroke="#5a5a5a" stroke-width="0.6"/>
<text transform="translate(219.5 136.6) scale(0.86 1)" font-size="8.9" text-anchor="end">80</text>
<line x1="221.1" y1="117.4" x2="224.5" y2="117.4" stroke="#5a5a5a" stroke-width="0.6"/>
<text transform="translate(220.8 120.1) scale(0.86 1)" font-size="8.9" text-anchor="end">100</text>
<line x1="229.5" y1="203.2" x2="229.5" y2="206.6" stroke="#5a5a5a" stroke-width="0.6"/>
<text transform="translate(228.2 216.2) scale(0.86 1)" font-size="8.9" text-anchor="middle">0</text>
<line x1="270.3" y1="203.2" x2="270.3" y2="206.6" stroke="#5a5a5a" stroke-width="0.6"/>
<text transform="translate(269 216.2) scale(0.86 1)" font-size="8.9" text-anchor="middle">10</text>
<line x1="311" y1="203.2" x2="311" y2="206.6" stroke="#5a5a5a" stroke-width="0.6"/>
<text transform="translate(309.7 216.2) scale(0.86 1)" font-size="8.9" text-anchor="middle">100</text>
<line x1="351.1" y1="203.2" x2="351.1" y2="206.6" stroke="#5a5a5a" stroke-width="0.6"/>
<text transform="translate(350.2 216.2) scale(0.86 1)" font-size="8.9" text-anchor="middle">1000</text>
<line x1="227.8" y1="120.3" x2="237.8" y2="120.3" stroke="#5a5a5a" stroke-width="0.65"/>
<circle cx="232.8" cy="120.3" r="1.35" fill="#000"/>
<line x1="227.8" y1="130.9" x2="237.8" y2="130.9" stroke="#6a6a6a" stroke-width="0.65" stroke-dasharray="1 0.8"/>
<circle cx="232.8" cy="130.9" r="1.3" fill="#fff" stroke="#111" stroke-width="0.55"/>
<text transform="translate(243.2 123.2) scale(0.88 1)" font-size="8.4" text-anchor="start">G1·30 °C</text>
<text transform="translate(243.2 133.8) scale(0.88 1)" font-size="8.4" text-anchor="start">G1·45 °C</text>
<text transform="translate(197.1 119.3) scale(0.8 1)" font-size="9.4" text-anchor="start" font-weight="bold">E</text>
</g>
<g id="pF">
<line x1="506.6" y1="112.3" x2="506.6" y2="203.2" stroke="#bababa" stroke-width="0.9"/>
<polyline points="406.6,200.56 407.94,200.55 409.28,200.54 410.63,200.53 411.97,200.52 413.31,200.51 414.65,200.5 416,200.48 417.34,200.46 418.68,200.44 420.02,200.42 421.37,200.39 422.71,200.36 424.05,200.32 425.39,200.28 426.74,200.23 428.08,200.18 429.42,200.12 430.76,200.05 432.11,199.96 433.45,199.87 434.79,199.76 436.13,199.63 437.48,199.49 438.82,199.33 440.16,199.14 441.5,198.92 442.85,198.68 444.19,198.39 445.53,198.07 446.87,197.7 448.22,197.29 449.56,196.81 450.9,196.27 452.24,195.66 453.59,194.97 454.93,194.18 456.27,193.3 457.61,192.32 458.96,191.21 460.3,189.98 461.64,188.61 462.98,187.1 464.33,185.44 465.67,183.62 467.01,181.65 468.35,179.51 469.7,177.23 471.04,174.8 472.38,172.24 473.72,169.56 475.07,166.78 476.41,163.92 477.75,161.02 479.09,158.1 480.44,155.18 481.78,152.29 483.12,149.47 484.46,146.74 485.81,144.11 487.15,141.61 488.49,139.25 489.83,137.04 491.18,134.98 492.52,133.09 493.86,131.34 495.2,129.76 496.55,128.31 497.89,127.01 499.23,125.84 500.57,124.79 501.92,123.86 503.26,123.03 504.6,122.29 505.94,121.64 507.29,121.06 508.63,120.55 509.97,120.1 511.31,119.71 512.66,119.37 514,119.06 515.34,118.8 516.68,118.57 518.03,118.37 519.37,118.19 520.71,118.04 522.05,117.9 523.39,117.78 524.74,117.68 526.08,117.59 527.42,117.52 528.76,117.45 530.11,117.39 531.45,117.34 532.79,117.29 534.13,117.26 535.48,117.22 536.82,117.19 538.16,117.17 539.5,117.15" fill="none" stroke="#1a1a1a" stroke-width="0.65"/>
<polyline points="406.6,200.4 407.94,200.38 409.28,200.36 410.63,200.34 411.97,200.31 413.31,200.28 414.65,200.25 416,200.21 417.34,200.17 418.68,200.13 420.02,200.08 421.37,200.02 422.71,199.96 424.05,199.9 425.39,199.83 426.74,199.75 428.08,199.66 429.42,199.56 430.76,199.46 432.11,199.34 433.45,199.21 434.79,199.07 436.13,198.92 437.48,198.75 438.82,198.56 440.16,198.35 441.5,198.13 442.85,197.88 444.19,197.61 445.53,197.31 446.87,196.98 448.22,196.63 449.56,196.24 450.9,195.81 452.24,195.34 453.59,194.83 454.93,194.28 456.27,193.68 457.61,193.02 458.96,192.31 460.3,191.54 461.64,190.71 462.98,189.81 464.33,188.84 465.67,187.8 467.01,186.69 468.35,185.5 469.7,184.23 471.04,182.87 472.38,181.44 473.72,179.92 475.07,178.33 476.41,176.65 477.75,174.9 479.09,173.07 480.44,171.18 481.78,169.23 483.12,167.22 484.46,165.16 485.81,163.06 487.15,160.94 488.49,158.79 489.83,156.63 491.18,154.48 492.52,152.34 493.86,150.22 495.2,148.13 496.55,146.08 497.89,144.08 499.23,142.13 500.57,140.25 501.92,138.44 503.26,136.7 504.6,135.04 505.94,133.46 507.29,131.96 508.63,130.54 509.97,129.2 511.31,127.94 512.66,126.77 514,125.67 515.34,124.64 516.68,123.69 518.03,122.8 519.37,121.98 520.71,121.22 522.05,120.52 523.39,119.88 524.74,119.28 526.08,118.74 527.42,118.24 528.76,117.78 530.11,117.36 531.45,116.97 532.79,116.62 534.13,116.3 535.48,116.01 536.82,115.74 538.16,115.49 539.5,115.27" fill="none" stroke="#1a1a1a" stroke-width="0.65" stroke-dasharray="0.75 0.75"/>
<line x1="477.5" y1="159.45" x2="480.5" y2="159.45" stroke="#555" stroke-width="0.5"/>
<line x1="477.5" y1="158.45" x2="477.5" y2="160.45" stroke="#555" stroke-width="0.5"/>
<line x1="480.5" y1="158.45" x2="480.5" y2="160.45" stroke="#555" stroke-width="0.5"/>
<line x1="478.1" y1="158.55" x2="479.9" y2="160.35" stroke="#555" stroke-width="0.45"/>
<line x1="478.1" y1="160.35" x2="479.9" y2="158.55" stroke="#555" stroke-width="0.45"/>
<line x1="487.1" y1="159.45" x2="492.1" y2="159.45" stroke="#555" stroke-width="0.5"/>
<line x1="487.1" y1="158.45" x2="487.1" y2="160.45" stroke="#555" stroke-width="0.5"/>
<line x1="492.1" y1="158.45" x2="492.1" y2="160.45" stroke="#555" stroke-width="0.5"/>
<line x1="488.7" y1="158.55" x2="490.5" y2="160.35" stroke="#555" stroke-width="0.45"/>
<line x1="488.7" y1="160.35" x2="490.5" y2="158.55" stroke="#555" stroke-width="0.45"/>
<circle cx="406.6" cy="200.6" r="1.45" fill="#000"/>
<circle cx="465.6" cy="192.37" r="1.35" fill="#fff" stroke="#111" stroke-width="0.6"/>
<circle cx="477.87" cy="167.68" r="1.35" fill="#fff" stroke="#111" stroke-width="0.6"/>
<circle cx="490.14" cy="159.45" r="1.35" fill="#fff" stroke="#111" stroke-width="0.6"/>
<circle cx="502.4" cy="138.88" r="1.35" fill="#fff" stroke="#111" stroke-width="0.6"/>
<circle cx="509.58" cy="134.76" r="1.35" fill="#fff" stroke="#111" stroke-width="0.6"/>
<circle cx="514.67" cy="118.3" r="1.35" fill="#fff" stroke="#111" stroke-width="0.6"/>
<circle cx="521.85" cy="118.3" r="1.35" fill="#fff" stroke="#111" stroke-width="0.6"/>
<circle cx="526.94" cy="118.3" r="1.35" fill="#fff" stroke="#111" stroke-width="0.6"/>
<circle cx="539.2" cy="118.3" r="1.35" fill="#fff" stroke="#111" stroke-width="0.6"/>
<circle cx="465.6" cy="184.14" r="1.45" fill="#000"/>
<circle cx="477.87" cy="159.45" r="1.45" fill="#000"/>
<circle cx="490.14" cy="138.88" r="1.45" fill="#000"/>
<circle cx="502.4" cy="122.41" r="1.45" fill="#000"/>
<circle cx="509.58" cy="118.3" r="1.45" fill="#000"/>
<circle cx="514.67" cy="118.3" r="1.45" fill="#000"/>
<circle cx="521.85" cy="118.3" r="1.45" fill="#000"/>
<circle cx="526.94" cy="118.3" r="1.45" fill="#000"/>
<circle cx="539.2" cy="118.3" r="1.45" fill="#000"/>
<rect x="401.4" y="112.3" width="142.4" height="90.9" fill="none" stroke="#666" stroke-width="0.7"/>
<line x1="398" y1="200.6" x2="401.4" y2="200.6" stroke="#5a5a5a" stroke-width="0.6"/>
<text transform="translate(395.6 203.3) scale(0.86 1)" font-size="8.9" text-anchor="end">0</text>
<line x1="398" y1="184.14" x2="401.4" y2="184.14" stroke="#5a5a5a" stroke-width="0.6"/>
<text transform="translate(396.4 186.84) scale(0.86 1)" font-size="8.9" text-anchor="end">20</text>
<line x1="398" y1="167.68" x2="401.4" y2="167.68" stroke="#5a5a5a" stroke-width="0.6"/>
<text transform="translate(396.4 170.38) scale(0.86 1)" font-size="8.9" text-anchor="end">40</text>
<line x1="398" y1="151.22" x2="401.4" y2="151.22" stroke="#5a5a5a" stroke-width="0.6"/>
<text transform="translate(396.4 153.92) scale(0.86 1)" font-size="8.9" text-anchor="end">60</text>
<line x1="398" y1="134.76" x2="401.4" y2="134.76" stroke="#5a5a5a" stroke-width="0.6"/>
<text transform="translate(396.4 137.46) scale(0.86 1)" font-size="8.9" text-anchor="end">80</text>
<line x1="398" y1="118.3" x2="401.4" y2="118.3" stroke="#5a5a5a" stroke-width="0.6"/>
<text transform="translate(397.7 121) scale(0.86 1)" font-size="8.9" text-anchor="end">100</text>
<line x1="406.6" y1="203.2" x2="406.6" y2="206.6" stroke="#5a5a5a" stroke-width="0.6"/>
<text transform="translate(406.6 216.2) scale(0.86 1)" font-size="8.9" text-anchor="middle">0</text>
<line x1="447.3" y1="203.2" x2="447.3" y2="206.6" stroke="#5a5a5a" stroke-width="0.6"/>
<text transform="translate(447.3 216.2) scale(0.86 1)" font-size="8.9" text-anchor="middle">10</text>
<line x1="488" y1="203.2" x2="488" y2="206.6" stroke="#5a5a5a" stroke-width="0.6"/>
<text transform="translate(488 216.2) scale(0.86 1)" font-size="8.9" text-anchor="middle">100</text>
<line x1="528.8" y1="203.2" x2="528.8" y2="206.6" stroke="#5a5a5a" stroke-width="0.6"/>
<text transform="translate(528.8 216.2) scale(0.86 1)" font-size="8.9" text-anchor="middle">1000</text>
<line x1="403.5" y1="120.3" x2="413.5" y2="120.3" stroke="#5a5a5a" stroke-width="0.65"/>
<circle cx="408.5" cy="120.3" r="1.35" fill="#000"/>
<line x1="403.5" y1="130.9" x2="413.5" y2="130.9" stroke="#6a6a6a" stroke-width="0.65" stroke-dasharray="1 0.8"/>
<circle cx="408.5" cy="130.9" r="1.3" fill="#fff" stroke="#111" stroke-width="0.55"/>
<text transform="translate(419 123.2) scale(0.88 1)" font-size="8.4" text-anchor="start">G2·30 °C</text>
<text transform="translate(419 133.8) scale(0.88 1)" font-size="8.4" text-anchor="start">G2·45 °C</text>
<text transform="translate(372.6 119.1) scale(0.8 1)" font-size="9.4" text-anchor="start" font-weight="bold">F</text>
</g>
<g id="pG">
<line x1="153.5" y1="220.9" x2="153.5" y2="312.2" stroke="#bababa" stroke-width="0.9"/>
<polyline points="56,309 57.31,309 58.61,309 59.92,309 61.23,308.99 62.53,308.99 63.84,308.99 65.15,308.99 66.45,308.99 67.76,308.99 69.07,308.98 70.37,308.98 71.68,308.97 72.99,308.97 74.29,308.96 75.6,308.95 76.91,308.95 78.21,308.93 79.52,308.92 80.83,308.9 82.13,308.88 83.44,308.86 84.75,308.83 86.05,308.79 87.36,308.74 88.66,308.69 89.97,308.62 91.28,308.54 92.58,308.44 93.89,308.33 95.2,308.18 96.5,308.01 97.81,307.8 99.12,307.55 100.42,307.25 101.73,306.88 103.04,306.44 104.34,305.92 105.65,305.29 106.96,304.54 108.26,303.64 109.57,302.59 110.88,301.35 112.18,299.89 113.49,298.2 114.8,296.26 116.1,294.03 117.41,291.51 118.72,288.71 120.02,285.61 121.33,282.25 122.64,278.66 123.94,274.88 125.25,270.98 126.56,267.03 127.86,263.11 129.17,259.27 130.48,255.6 131.78,252.14 133.09,248.93 134.4,246 135.7,243.36 137.01,241.02 138.32,238.96 139.62,237.17 140.93,235.62 142.24,234.29 143.54,233.16 144.85,232.21 146.16,231.4 147.46,230.72 148.77,230.16 150.07,229.68 151.38,229.29 152.69,228.96 153.99,228.69 155.3,228.46 156.61,228.28 157.91,228.12 159.22,228 160.53,227.89 161.83,227.8 163.14,227.73 164.45,227.67 165.75,227.62 167.06,227.58 168.37,227.55 169.67,227.52 170.98,227.5 172.29,227.48 173.59,227.47 174.9,227.45 176.21,227.44 177.51,227.43 178.82,227.43 180.13,227.42 181.43,227.42 182.74,227.41 184.05,227.41 185.35,227.41" fill="none" stroke="#1a1a1a" stroke-width="0.65"/>
<polyline points="56,308.91 57.31,308.89 58.61,308.88 59.92,308.86 61.23,308.84 62.53,308.82 63.84,308.8 65.15,308.77 66.45,308.74 67.76,308.71 69.07,308.67 70.37,308.63 71.68,308.58 72.99,308.52 74.29,308.46 75.6,308.39 76.91,308.3 78.21,308.21 79.52,308.11 80.83,307.99 82.13,307.86 83.44,307.71 84.75,307.53 86.05,307.34 87.36,307.13 88.66,306.88 89.97,306.61 91.28,306.3 92.58,305.95 93.89,305.56 95.2,305.12 96.5,304.63 97.81,304.07 99.12,303.46 100.42,302.77 101.73,302.01 103.04,301.16 104.34,300.22 105.65,299.18 106.96,298.04 108.26,296.79 109.57,295.41 110.88,293.92 112.18,292.3 113.49,290.55 114.8,288.68 116.1,286.67 117.41,284.55 118.72,282.31 120.02,279.96 121.33,277.51 122.64,274.99 123.94,272.4 125.25,269.77 126.56,267.11 127.86,264.45 129.17,261.8 130.48,259.19 131.78,256.63 133.09,254.15 134.4,251.76 135.7,249.47 137.01,247.29 138.32,245.24 139.62,243.3 140.93,241.5 142.24,239.82 143.54,238.28 144.85,236.85 146.16,235.55 147.46,234.35 148.77,233.27 150.07,232.29 151.38,231.4 152.69,230.6 153.99,229.88 155.3,229.24 156.61,228.66 157.91,228.14 159.22,227.68 160.53,227.27 161.83,226.9 163.14,226.57 164.45,226.28 165.75,226.03 167.06,225.8 168.37,225.6 169.67,225.42 170.98,225.26 172.29,225.12 173.59,224.99 174.9,224.88 176.21,224.78 177.51,224.7 178.82,224.62 180.13,224.56 181.43,224.5 182.74,224.44 184.05,224.4 185.35,224.36" fill="none" stroke="#1a1a1a" stroke-width="0.65" stroke-dasharray="0.75 0.75"/>
<line x1="125" y1="267.45" x2="127.4" y2="267.45" stroke="#555" stroke-width="0.5"/>
<line x1="125" y1="266.45" x2="125" y2="268.45" stroke="#555" stroke-width="0.5"/>
<line x1="127.4" y1="266.45" x2="127.4" y2="268.45" stroke="#555" stroke-width="0.5"/>
<line x1="125.3" y1="266.55" x2="127.1" y2="268.35" stroke="#555" stroke-width="0.45"/>
<line x1="125.3" y1="268.35" x2="127.1" y2="266.55" stroke="#555" stroke-width="0.45"/>
<line x1="125.6" y1="267.45" x2="128" y2="267.45" stroke="#555" stroke-width="0.5"/>
<line x1="125.6" y1="266.45" x2="125.6" y2="268.45" stroke="#555" stroke-width="0.5"/>
<line x1="128" y1="266.45" x2="128" y2="268.45" stroke="#555" stroke-width="0.5"/>
<line x1="125.9" y1="266.55" x2="127.7" y2="268.35" stroke="#555" stroke-width="0.45"/>
<line x1="125.9" y1="268.35" x2="127.7" y2="266.55" stroke="#555" stroke-width="0.45"/>
<circle cx="56" cy="309" r="1.45" fill="#000"/>
<circle cx="105.67" cy="296.54" r="1.35" fill="#fff" stroke="#111" stroke-width="0.6"/>
<circle cx="118.9" cy="284.07" r="1.35" fill="#fff" stroke="#111" stroke-width="0.6"/>
<circle cx="132.13" cy="254.99" r="1.35" fill="#fff" stroke="#111" stroke-width="0.6"/>
<circle cx="145.36" cy="238.37" r="1.35" fill="#fff" stroke="#111" stroke-width="0.6"/>
<circle cx="153.1" cy="228.39" r="1.35" fill="#fff" stroke="#111" stroke-width="0.6"/>
<circle cx="158.59" cy="225.9" r="1.35" fill="#fff" stroke="#111" stroke-width="0.6"/>
<circle cx="166.33" cy="225.9" r="1.35" fill="#fff" stroke="#111" stroke-width="0.6"/>
<circle cx="171.82" cy="225.9" r="1.35" fill="#fff" stroke="#111" stroke-width="0.6"/>
<circle cx="185.05" cy="225.9" r="1.35" fill="#fff" stroke="#111" stroke-width="0.6"/>
<circle cx="105.67" cy="300.69" r="1.45" fill="#000"/>
<circle cx="118.9" cy="292.38" r="1.45" fill="#000"/>
<circle cx="132.13" cy="246.68" r="1.45" fill="#000"/>
<circle cx="145.36" cy="238.37" r="1.45" fill="#000"/>
<circle cx="153.1" cy="232.13" r="1.45" fill="#000"/>
<circle cx="158.59" cy="225.9" r="1.45" fill="#000"/>
<circle cx="166.33" cy="225.9" r="1.45" fill="#000"/>
<circle cx="171.82" cy="225.9" r="1.45" fill="#000"/>
<circle cx="185.05" cy="225.9" r="1.45" fill="#000"/>
<rect x="50.7" y="220.9" width="139.9" height="91.3" fill="none" stroke="#666" stroke-width="0.7"/>
<line x1="47.3" y1="309" x2="50.7" y2="309" stroke="#5a5a5a" stroke-width="0.6"/>
<text transform="translate(42.1 311.7) scale(0.86 1)" font-size="8.9" text-anchor="end">0</text>
<line x1="47.3" y1="292.38" x2="50.7" y2="292.38" stroke="#5a5a5a" stroke-width="0.6"/>
<text transform="translate(45.7 295.08) scale(0.86 1)" font-size="8.9" text-anchor="end">20</text>
<line x1="47.3" y1="275.76" x2="50.7" y2="275.76" stroke="#5a5a5a" stroke-width="0.6"/>
<text transform="translate(45.7 278.46) scale(0.86 1)" font-size="8.9" text-anchor="end">40</text>
<line x1="47.3" y1="259.14" x2="50.7" y2="259.14" stroke="#5a5a5a" stroke-width="0.6"/>
<text transform="translate(45.7 261.84) scale(0.86 1)" font-size="8.9" text-anchor="end">60</text>
<line x1="47.3" y1="242.52" x2="50.7" y2="242.52" stroke="#5a5a5a" stroke-width="0.6"/>
<text transform="translate(45.7 245.22) scale(0.86 1)" font-size="8.9" text-anchor="end">80</text>
<line x1="47.3" y1="225.9" x2="50.7" y2="225.9" stroke="#5a5a5a" stroke-width="0.6"/>
<text transform="translate(47 228.6) scale(0.86 1)" font-size="8.9" text-anchor="end">100</text>
<line x1="56" y1="312.2" x2="56" y2="315.6" stroke="#5a5a5a" stroke-width="0.6"/>
<text transform="translate(57.8 324.9) scale(0.86 1)" font-size="8.9" text-anchor="middle">0</text>
<line x1="100.7" y1="312.2" x2="100.7" y2="315.6" stroke="#5a5a5a" stroke-width="0.6"/>
<text transform="translate(102 324.9) scale(0.86 1)" font-size="8.9" text-anchor="middle">10</text>
<line x1="144.7" y1="312.2" x2="144.7" y2="315.6" stroke="#5a5a5a" stroke-width="0.6"/>
<text transform="translate(146 324.9) scale(0.86 1)" font-size="8.9" text-anchor="middle">100</text>
<line x1="188.6" y1="312.2" x2="188.6" y2="315.6" stroke="#5a5a5a" stroke-width="0.6"/>
<text transform="translate(189.6 324.9) scale(0.86 1)" font-size="8.9" text-anchor="middle">1000</text>
<line x1="53.3" y1="230.8" x2="63.2" y2="230.8" stroke="#5a5a5a" stroke-width="0.65"/>
<circle cx="58.25" cy="230.8" r="1.35" fill="#000"/>
<line x1="53.3" y1="241.7" x2="63.2" y2="241.7" stroke="#6a6a6a" stroke-width="0.65" stroke-dasharray="1 0.8"/>
<circle cx="58.25" cy="241.7" r="1.3" fill="#fff" stroke="#111" stroke-width="0.55"/>
<text transform="translate(68.3 233.7) scale(0.88 1)" font-size="8.4" text-anchor="start">G0·30 °C</text>
<text transform="translate(68.3 244.6) scale(0.88 1)" font-size="8.4" text-anchor="start">G0·45 °C</text>
<text transform="translate(21.4 228.2) scale(0.8 1)" font-size="9.4" text-anchor="start" font-weight="bold">G</text>
</g>
<g id="pH">
<line x1="329" y1="220.6" x2="329" y2="312" stroke="#bababa" stroke-width="0.9"/>
<polyline points="231.8,308.8 233.11,308.8 234.42,308.8 235.73,308.8 237.03,308.8 238.34,308.8 239.65,308.8 240.96,308.8 242.27,308.8 243.58,308.8 244.89,308.8 246.19,308.8 247.5,308.8 248.81,308.8 250.12,308.79 251.43,308.79 252.74,308.79 254.05,308.79 255.35,308.78 256.66,308.78 257.97,308.77 259.28,308.77 260.59,308.76 261.9,308.75 263.21,308.73 264.51,308.72 265.82,308.69 267.13,308.66 268.44,308.63 269.75,308.58 271.06,308.53 272.36,308.45 273.67,308.36 274.98,308.25 276.29,308.1 277.6,307.91 278.91,307.68 280.22,307.39 281.52,307.02 282.83,306.56 284.14,305.98 285.45,305.26 286.76,304.37 288.07,303.27 289.38,301.92 290.68,300.28 291.99,298.3 293.3,295.95 294.61,293.18 295.92,289.99 297.23,286.37 298.54,282.36 299.84,278.01 301.15,273.41 302.46,268.68 303.77,263.95 305.08,259.34 306.39,254.98 307.7,250.95 309,247.32 310.31,244.11 311.62,241.33 312.93,238.96 314.24,236.97 315.55,235.32 316.86,233.96 318.16,232.85 319.47,231.95 320.78,231.23 322.09,230.65 323.4,230.18 324.71,229.81 326.02,229.51 327.32,229.28 328.63,229.09 329.94,228.94 331.25,228.82 332.56,228.73 333.87,228.66 335.17,228.6 336.48,228.55 337.79,228.52 339.1,228.49 340.41,228.47 341.72,228.45 343.03,228.43 344.33,228.42 345.64,228.41 346.95,228.41 348.26,228.4 349.57,228.4 350.88,228.39 352.19,228.39 353.49,228.39 354.8,228.39 356.11,228.39 357.42,228.39 358.73,228.38 360.04,228.38 361.35,228.38" fill="none" stroke="#1a1a1a" stroke-width="0.65"/>
<polyline points="231.8,308.77 233.11,308.76 234.42,308.76 235.73,308.75 237.03,308.74 238.34,308.73 239.65,308.72 240.96,308.71 242.27,308.7 243.58,308.69 244.89,308.67 246.19,308.65 247.5,308.63 248.81,308.6 250.12,308.58 251.43,308.54 252.74,308.51 254.05,308.47 255.35,308.42 256.66,308.36 257.97,308.3 259.28,308.23 260.59,308.15 261.9,308.05 263.21,307.95 264.51,307.82 265.82,307.69 267.13,307.53 268.44,307.35 269.75,307.14 271.06,306.91 272.36,306.64 273.67,306.34 274.98,305.99 276.29,305.6 277.6,305.16 278.91,304.66 280.22,304.1 281.52,303.46 282.83,302.75 284.14,301.95 285.45,301.05 286.76,300.04 288.07,298.92 289.38,297.69 290.68,296.32 291.99,294.81 293.3,293.16 294.61,291.37 295.92,289.43 297.23,287.33 298.54,285.1 299.84,282.73 301.15,280.23 302.46,277.61 303.77,274.91 305.08,272.12 306.39,269.29 307.7,266.42 309,263.56 310.31,260.72 311.62,257.93 312.93,255.21 314.24,252.58 315.55,250.07 316.86,247.68 318.16,245.43 319.47,243.32 320.78,241.36 322.09,239.55 323.4,237.88 324.71,236.36 326.02,234.97 327.32,233.72 328.63,232.59 329.94,231.57 331.25,230.66 332.56,229.84 333.87,229.12 335.17,228.47 336.48,227.9 337.79,227.39 339.1,226.94 340.41,226.55 341.72,226.2 343.03,225.89 344.33,225.62 345.64,225.38 346.95,225.18 348.26,224.99 349.57,224.83 350.88,224.69 352.19,224.57 353.49,224.46 354.8,224.36 356.11,224.28 357.42,224.21 358.73,224.14 360.04,224.09 361.35,224.04" fill="none" stroke="#1a1a1a" stroke-width="0.65" stroke-dasharray="0.75 0.75"/>
<line x1="300.5" y1="267.35" x2="303.5" y2="267.35" stroke="#555" stroke-width="0.5"/>
<line x1="300.5" y1="266.35" x2="300.5" y2="268.35" stroke="#555" stroke-width="0.5"/>
<line x1="303.5" y1="266.35" x2="303.5" y2="268.35" stroke="#555" stroke-width="0.5"/>
<line x1="301.1" y1="266.45" x2="302.9" y2="268.25" stroke="#555" stroke-width="0.45"/>
<line x1="301.1" y1="268.25" x2="302.9" y2="266.45" stroke="#555" stroke-width="0.45"/>
<line x1="305.8" y1="267.35" x2="309.4" y2="267.35" stroke="#555" stroke-width="0.5"/>
<line x1="305.8" y1="266.35" x2="305.8" y2="268.35" stroke="#555" stroke-width="0.5"/>
<line x1="309.4" y1="266.35" x2="309.4" y2="268.35" stroke="#555" stroke-width="0.5"/>
<line x1="306.7" y1="266.45" x2="308.5" y2="268.25" stroke="#555" stroke-width="0.45"/>
<line x1="306.7" y1="268.25" x2="308.5" y2="266.45" stroke="#555" stroke-width="0.45"/>
<circle cx="231.8" cy="308.8" r="1.45" fill="#000"/>
<circle cx="281.48" cy="300.51" r="1.35" fill="#fff" stroke="#111" stroke-width="0.6"/>
<circle cx="294.74" cy="292.22" r="1.35" fill="#fff" stroke="#111" stroke-width="0.6"/>
<circle cx="308" cy="265.69" r="1.35" fill="#fff" stroke="#111" stroke-width="0.6"/>
<circle cx="321.26" cy="242.48" r="1.35" fill="#fff" stroke="#111" stroke-width="0.6"/>
<circle cx="329.02" cy="230.87" r="1.35" fill="#fff" stroke="#111" stroke-width="0.6"/>
<circle cx="334.53" cy="225.9" r="1.35" fill="#fff" stroke="#111" stroke-width="0.6"/>
<circle cx="342.28" cy="225.9" r="1.35" fill="#fff" stroke="#111" stroke-width="0.6"/>
<circle cx="347.79" cy="225.9" r="1.35" fill="#fff" stroke="#111" stroke-width="0.6"/>
<circle cx="361.05" cy="225.9" r="1.35" fill="#fff" stroke="#111" stroke-width="0.6"/>
<circle cx="281.48" cy="300.51" r="1.45" fill="#000"/>
<circle cx="294.74" cy="296.37" r="1.45" fill="#000"/>
<circle cx="308" cy="246.62" r="1.45" fill="#000"/>
<circle cx="321.26" cy="238.34" r="1.45" fill="#000"/>
<circle cx="329.02" cy="234.19" r="1.45" fill="#000"/>
<circle cx="334.53" cy="225.9" r="1.45" fill="#000"/>
<circle cx="342.28" cy="225.9" r="1.45" fill="#000"/>
<circle cx="347.79" cy="225.9" r="1.45" fill="#000"/>
<circle cx="361.05" cy="225.9" r="1.45" fill="#000"/>
<rect x="226.7" y="220.6" width="139.5" height="91.4" fill="none" stroke="#666" stroke-width="0.7"/>
<line x1="223.3" y1="308.8" x2="226.7" y2="308.8" stroke="#5a5a5a" stroke-width="0.6"/>
<text transform="translate(219.6 311.5) scale(0.86 1)" font-size="8.9" text-anchor="end">0</text>
<line x1="223.3" y1="292.22" x2="226.7" y2="292.22" stroke="#5a5a5a" stroke-width="0.6"/>
<text transform="translate(221.7 294.92) scale(0.86 1)" font-size="8.9" text-anchor="end">20</text>
<line x1="223.3" y1="275.64" x2="226.7" y2="275.64" stroke="#5a5a5a" stroke-width="0.6"/>
<text transform="translate(221.7 278.34) scale(0.86 1)" font-size="8.9" text-anchor="end">40</text>
<line x1="223.3" y1="259.06" x2="226.7" y2="259.06" stroke="#5a5a5a" stroke-width="0.6"/>
<text transform="translate(221.7 261.76) scale(0.86 1)" font-size="8.9" text-anchor="end">60</text>
<line x1="223.3" y1="242.48" x2="226.7" y2="242.48" stroke="#5a5a5a" stroke-width="0.6"/>
<text transform="translate(221.7 245.18) scale(0.86 1)" font-size="8.9" text-anchor="end">80</text>
<line x1="223.3" y1="225.9" x2="226.7" y2="225.9" stroke="#5a5a5a" stroke-width="0.6"/>
<text transform="translate(223 228.6) scale(0.86 1)" font-size="8.9" text-anchor="end">100</text>
<line x1="231.9" y1="312" x2="231.9" y2="315.4" stroke="#5a5a5a" stroke-width="0.6"/>
<text transform="translate(232 324.8) scale(0.86 1)" font-size="8.9" text-anchor="middle">0</text>
<line x1="276.1" y1="312" x2="276.1" y2="315.4" stroke="#5a5a5a" stroke-width="0.6"/>
<text transform="translate(276.1 324.8) scale(0.86 1)" font-size="8.9" text-anchor="middle">10</text>
<line x1="320.3" y1="312" x2="320.3" y2="315.4" stroke="#5a5a5a" stroke-width="0.6"/>
<text transform="translate(320 324.8) scale(0.86 1)" font-size="8.9" text-anchor="middle">100</text>
<line x1="364.2" y1="312" x2="364.2" y2="315.4" stroke="#5a5a5a" stroke-width="0.6"/>
<text transform="translate(363.3 324.8) scale(0.86 1)" font-size="8.9" text-anchor="middle">1000</text>
<line x1="229" y1="230.8" x2="238.8" y2="230.8" stroke="#5a5a5a" stroke-width="0.65"/>
<circle cx="233.9" cy="230.8" r="1.35" fill="#000"/>
<line x1="229" y1="241.7" x2="238.8" y2="241.7" stroke="#6a6a6a" stroke-width="0.65" stroke-dasharray="1 0.8"/>
<circle cx="233.9" cy="241.7" r="1.3" fill="#fff" stroke="#111" stroke-width="0.55"/>
<text transform="translate(244 233.7) scale(0.88 1)" font-size="8.4" text-anchor="start">G1·30 °C</text>
<text transform="translate(244 244.6) scale(0.88 1)" font-size="8.4" text-anchor="start">G1·45 °C</text>
<text transform="translate(197.1 228.2) scale(0.8 1)" font-size="9.4" text-anchor="start" font-weight="bold">H</text>
</g>
<g id="pI">
<line x1="504.4" y1="220.6" x2="504.4" y2="311.7" stroke="#bababa" stroke-width="0.9"/>
<polyline points="407.4,308.6 408.71,308.6 410.02,308.6 411.33,308.6 412.63,308.6 413.94,308.6 415.25,308.6 416.56,308.6 417.87,308.6 419.18,308.6 420.49,308.6 421.79,308.6 423.1,308.6 424.41,308.6 425.72,308.59 427.03,308.59 428.34,308.59 429.65,308.59 430.95,308.58 432.26,308.58 433.57,308.57 434.88,308.57 436.19,308.56 437.5,308.55 438.81,308.53 440.11,308.52 441.42,308.49 442.73,308.47 444.04,308.43 445.35,308.39 446.66,308.33 447.96,308.26 449.27,308.17 450.58,308.05 451.89,307.91 453.2,307.72 454.51,307.49 455.82,307.2 457.12,306.83 458.43,306.37 459.74,305.8 461.05,305.08 462.36,304.19 463.67,303.09 464.98,301.74 466.28,300.1 467.59,298.13 468.9,295.77 470.21,293.01 471.52,289.82 472.83,286.2 474.14,282.19 475.44,277.85 476.75,273.26 478.06,268.54 479.37,263.83 480.68,259.24 481.99,254.91 483.3,250.91 484.6,247.31 485.91,244.14 487.22,241.39 488.53,239.05 489.84,237.09 491.15,235.46 492.46,234.13 493.76,233.04 495.07,232.15 496.38,231.44 497.69,230.87 499,230.42 500.31,230.05 501.62,229.76 502.92,229.53 504.23,229.35 505.54,229.21 506.85,229.09 508.16,229 509.47,228.93 510.77,228.87 512.08,228.83 513.39,228.79 514.7,228.77 516.01,228.74 517.32,228.73 518.63,228.71 519.93,228.7 521.24,228.69 522.55,228.69 523.86,228.68 525.17,228.68 526.48,228.67 527.79,228.67 529.09,228.67 530.4,228.67 531.71,228.67 533.02,228.67 534.33,228.66 535.64,228.66 536.95,228.66" fill="none" stroke="#1a1a1a" stroke-width="0.65"/>
<polyline points="407.4,308.58 408.71,308.58 410.02,308.58 411.33,308.57 412.63,308.57 413.94,308.56 415.25,308.56 416.56,308.55 417.87,308.54 419.18,308.53 420.49,308.52 421.79,308.51 423.1,308.5 424.41,308.49 425.72,308.47 427.03,308.45 428.34,308.43 429.65,308.4 430.95,308.37 432.26,308.34 433.57,308.3 434.88,308.25 436.19,308.2 437.5,308.14 438.81,308.07 440.11,307.99 441.42,307.9 442.73,307.8 444.04,307.68 445.35,307.54 446.66,307.39 447.96,307.21 449.27,307.01 450.58,306.77 451.89,306.51 453.2,306.2 454.51,305.86 455.82,305.46 457.12,305.01 458.43,304.5 459.74,303.92 461.05,303.26 462.36,302.52 463.67,301.69 464.98,300.75 466.28,299.7 467.59,298.53 468.9,297.22 470.21,295.78 471.52,294.18 472.83,292.44 474.14,290.54 475.44,288.48 476.75,286.26 478.06,283.89 479.37,281.38 480.68,278.74 481.99,275.99 483.3,273.15 484.6,270.24 485.91,267.3 487.22,264.34 488.53,261.4 489.84,258.51 491.15,255.69 492.46,252.97 493.76,250.36 495.07,247.88 496.38,245.54 497.69,243.36 499,241.34 500.31,239.47 501.62,237.77 502.92,236.21 504.23,234.8 505.54,233.53 506.85,232.38 508.16,231.36 509.47,230.45 510.77,229.64 512.08,228.92 513.39,228.28 514.7,227.72 516.01,227.22 517.32,226.78 518.63,226.4 519.93,226.07 521.24,225.77 522.55,225.51 523.86,225.29 525.17,225.09 526.48,224.92 527.79,224.77 529.09,224.63 530.4,224.52 531.71,224.42 533.02,224.33 534.33,224.26 535.64,224.19 536.95,224.13" fill="none" stroke="#1a1a1a" stroke-width="0.65" stroke-dasharray="0.75 0.75"/>
<line x1="476.1" y1="267.25" x2="479.1" y2="267.25" stroke="#555" stroke-width="0.5"/>
<line x1="476.1" y1="266.25" x2="476.1" y2="268.25" stroke="#555" stroke-width="0.5"/>
<line x1="479.1" y1="266.25" x2="479.1" y2="268.25" stroke="#555" stroke-width="0.5"/>
<line x1="476.7" y1="266.35" x2="478.5" y2="268.15" stroke="#555" stroke-width="0.45"/>
<line x1="476.7" y1="268.15" x2="478.5" y2="266.35" stroke="#555" stroke-width="0.45"/>
<line x1="484.8" y1="267.25" x2="488.4" y2="267.25" stroke="#555" stroke-width="0.5"/>
<line x1="484.8" y1="266.25" x2="484.8" y2="268.25" stroke="#555" stroke-width="0.5"/>
<line x1="488.4" y1="266.25" x2="488.4" y2="268.25" stroke="#555" stroke-width="0.5"/>
<line x1="485.7" y1="266.35" x2="487.5" y2="268.15" stroke="#555" stroke-width="0.45"/>
<line x1="485.7" y1="268.15" x2="487.5" y2="266.35" stroke="#555" stroke-width="0.45"/>
<circle cx="407.4" cy="308.6" r="1.45" fill="#000"/>
<circle cx="457.08" cy="304.47" r="1.35" fill="#fff" stroke="#111" stroke-width="0.6"/>
<circle cx="470.34" cy="296.19" r="1.35" fill="#fff" stroke="#111" stroke-width="0.6"/>
<circle cx="483.6" cy="271.38" r="1.35" fill="#fff" stroke="#111" stroke-width="0.6"/>
<circle cx="496.86" cy="246.58" r="1.35" fill="#fff" stroke="#111" stroke-width="0.6"/>
<circle cx="504.62" cy="235.82" r="1.35" fill="#fff" stroke="#111" stroke-width="0.6"/>
<circle cx="510.13" cy="225.9" r="1.35" fill="#fff" stroke="#111" stroke-width="0.6"/>
<circle cx="517.88" cy="225.9" r="1.35" fill="#fff" stroke="#111" stroke-width="0.6"/>
<circle cx="523.39" cy="225.9" r="1.35" fill="#fff" stroke="#111" stroke-width="0.6"/>
<circle cx="536.65" cy="225.9" r="1.35" fill="#fff" stroke="#111" stroke-width="0.6"/>
<circle cx="457.08" cy="300.33" r="1.45" fill="#000"/>
<circle cx="470.34" cy="296.19" r="1.45" fill="#000"/>
<circle cx="483.6" cy="246.58" r="1.45" fill="#000"/>
<circle cx="496.86" cy="238.31" r="1.45" fill="#000"/>
<circle cx="504.62" cy="235.82" r="1.45" fill="#000"/>
<circle cx="510.13" cy="225.9" r="1.45" fill="#000"/>
<circle cx="517.88" cy="225.9" r="1.45" fill="#000"/>
<circle cx="523.39" cy="225.9" r="1.45" fill="#000"/>
<circle cx="536.65" cy="225.9" r="1.45" fill="#000"/>
<rect x="402.3" y="220.6" width="139.7" height="91.1" fill="none" stroke="#666" stroke-width="0.7"/>
<line x1="398.9" y1="308.6" x2="402.3" y2="308.6" stroke="#5a5a5a" stroke-width="0.6"/>
<text transform="translate(395.2 311.3) scale(0.86 1)" font-size="8.9" text-anchor="end">0</text>
<line x1="398.9" y1="292.06" x2="402.3" y2="292.06" stroke="#5a5a5a" stroke-width="0.6"/>
<text transform="translate(397.3 294.76) scale(0.86 1)" font-size="8.9" text-anchor="end">20</text>
<line x1="398.9" y1="275.52" x2="402.3" y2="275.52" stroke="#5a5a5a" stroke-width="0.6"/>
<text transform="translate(397.3 278.22) scale(0.86 1)" font-size="8.9" text-anchor="end">40</text>
<line x1="398.9" y1="258.98" x2="402.3" y2="258.98" stroke="#5a5a5a" stroke-width="0.6"/>
<text transform="translate(397.3 261.68) scale(0.86 1)" font-size="8.9" text-anchor="end">60</text>
<line x1="398.9" y1="242.44" x2="402.3" y2="242.44" stroke="#5a5a5a" stroke-width="0.6"/>
<text transform="translate(397.3 245.14) scale(0.86 1)" font-size="8.9" text-anchor="end">80</text>
<line x1="398.9" y1="225.9" x2="402.3" y2="225.9" stroke="#5a5a5a" stroke-width="0.6"/>
<text transform="translate(398.6 228.6) scale(0.86 1)" font-size="8.9" text-anchor="end">100</text>
<line x1="407.5" y1="311.7" x2="407.5" y2="315.1" stroke="#5a5a5a" stroke-width="0.6"/>
<text transform="translate(407.3 324.4) scale(0.86 1)" font-size="8.9" text-anchor="middle">0</text>
<line x1="451.7" y1="311.7" x2="451.7" y2="315.1" stroke="#5a5a5a" stroke-width="0.6"/>
<text transform="translate(451.7 324.4) scale(0.86 1)" font-size="8.9" text-anchor="middle">10</text>
<line x1="495.6" y1="311.7" x2="495.6" y2="315.1" stroke="#5a5a5a" stroke-width="0.6"/>
<text transform="translate(495.6 324.4) scale(0.86 1)" font-size="8.9" text-anchor="middle">100</text>
<line x1="539.8" y1="311.7" x2="539.8" y2="315.1" stroke="#5a5a5a" stroke-width="0.6"/>
<text transform="translate(538.4 324.4) scale(0.86 1)" font-size="8.9" text-anchor="middle">1000</text>
<line x1="404" y1="230.8" x2="413.8" y2="230.8" stroke="#5a5a5a" stroke-width="0.65"/>
<circle cx="408.9" cy="230.8" r="1.35" fill="#000"/>
<line x1="404" y1="241.8" x2="413.8" y2="241.8" stroke="#6a6a6a" stroke-width="0.65" stroke-dasharray="1 0.8"/>
<circle cx="408.9" cy="241.8" r="1.3" fill="#fff" stroke="#111" stroke-width="0.55"/>
<text transform="translate(418.6 233.7) scale(0.88 1)" font-size="8.4" text-anchor="start">G2·30 °C</text>
<text transform="translate(418.6 244.7) scale(0.88 1)" font-size="8.4" text-anchor="start">G2·45 °C</text>
<text transform="translate(373.6 228.2) scale(0.8 1)" font-size="9.4" text-anchor="start" font-weight="bold">I</text>
</g>
<g id="pJ">
<line x1="153.7" y1="327.3" x2="153.7" y2="419.3" stroke="#bababa" stroke-width="0.9"/>
<polyline points="54,415.86 55.34,415.85 56.68,415.84 58.02,415.84 59.36,415.83 60.7,415.82 62.05,415.81 63.39,415.79 64.73,415.78 66.07,415.76 67.41,415.75 68.75,415.73 70.09,415.7 71.43,415.68 72.77,415.65 74.11,415.62 75.46,415.58 76.8,415.54 78.14,415.49 79.48,415.44 80.82,415.38 82.16,415.31 83.5,415.23 84.84,415.14 86.18,415.04 87.52,414.93 88.87,414.81 90.21,414.67 91.55,414.51 92.89,414.33 94.23,414.13 95.57,413.9 96.91,413.64 98.25,413.36 99.59,413.03 100.93,412.67 102.28,412.27 103.62,411.81 104.96,411.3 106.3,410.74 107.64,410.11 108.98,409.4 110.32,408.62 111.66,407.76 113,406.8 114.34,405.75 115.69,404.6 117.03,403.33 118.37,401.95 119.71,400.45 121.05,398.82 122.39,397.07 123.73,395.2 125.07,393.2 126.41,391.08 127.75,388.84 129.1,386.51 130.44,384.08 131.78,381.57 133.12,379 134.46,376.38 135.8,373.74 137.14,371.09 138.48,368.45 139.82,365.85 141.16,363.3 142.51,360.82 143.85,358.42 145.19,356.12 146.53,353.93 147.87,351.85 149.21,349.89 150.55,348.06 151.89,346.36 153.23,344.78 154.57,343.32 155.92,341.98 157.26,340.76 158.6,339.64 159.94,338.62 161.28,337.7 162.62,336.87 163.96,336.11 165.3,335.44 166.64,334.83 167.98,334.29 169.33,333.8 170.67,333.36 172.01,332.97 173.35,332.63 174.69,332.32 176.03,332.04 177.37,331.8 178.71,331.58 180.05,331.39 181.39,331.21 182.74,331.06 184.08,330.93 185.42,330.81 186.76,330.7" fill="none" stroke="#1a1a1a" stroke-width="0.65"/>
<polyline points="54,415.89 55.34,415.89 56.68,415.89 58.02,415.88 59.36,415.88 60.7,415.88 62.05,415.88 63.39,415.87 64.73,415.87 66.07,415.86 67.41,415.86 68.75,415.85 70.09,415.84 71.43,415.83 72.77,415.82 74.11,415.81 75.46,415.8 76.8,415.78 78.14,415.76 79.48,415.74 80.82,415.72 82.16,415.69 83.5,415.66 84.84,415.62 86.18,415.58 87.52,415.53 88.87,415.48 90.21,415.41 91.55,415.34 92.89,415.25 94.23,415.16 95.57,415.04 96.91,414.91 98.25,414.77 99.59,414.59 100.93,414.4 102.28,414.17 103.62,413.92 104.96,413.62 106.3,413.29 107.64,412.9 108.98,412.46 110.32,411.96 111.66,411.39 113,410.74 114.34,410.01 115.69,409.18 117.03,408.24 118.37,407.19 119.71,406.01 121.05,404.7 122.39,403.24 123.73,401.63 125.07,399.86 126.41,397.93 127.75,395.82 129.1,393.55 130.44,391.13 131.78,388.55 133.12,385.84 134.46,383.01 135.8,380.08 137.14,377.09 138.48,374.05 139.82,371 141.16,367.98 142.51,365 143.85,362.1 145.19,359.31 146.53,356.63 147.87,354.1 149.21,351.72 150.55,349.51 151.89,347.46 153.23,345.57 154.57,343.85 155.92,342.29 157.26,340.88 158.6,339.61 159.94,338.48 161.28,337.46 162.62,336.56 163.96,335.76 165.3,335.06 166.64,334.44 167.98,333.89 169.33,333.41 170.67,332.99 172.01,332.62 173.35,332.29 174.69,332.01 176.03,331.76 177.37,331.55 178.71,331.36 180.05,331.2 181.39,331.06 182.74,330.93 184.08,330.82 185.42,330.73 186.76,330.65" fill="none" stroke="#1a1a1a" stroke-width="0.65" stroke-dasharray="0.75 0.75"/>
<line x1="133.7" y1="374.9" x2="140.7" y2="374.9" stroke="#555" stroke-width="0.5"/>
<line x1="133.7" y1="373.9" x2="133.7" y2="375.9" stroke="#555" stroke-width="0.5"/>
<line x1="140.7" y1="373.9" x2="140.7" y2="375.9" stroke="#555" stroke-width="0.5"/>
<line x1="136.3" y1="374" x2="138.1" y2="375.8" stroke="#555" stroke-width="0.45"/>
<line x1="136.3" y1="375.8" x2="138.1" y2="374" stroke="#555" stroke-width="0.45"/>
<line x1="138" y1="374.9" x2="141" y2="374.9" stroke="#555" stroke-width="0.5"/>
<line x1="138" y1="373.9" x2="138" y2="375.9" stroke="#555" stroke-width="0.5"/>
<line x1="141" y1="373.9" x2="141" y2="375.9" stroke="#555" stroke-width="0.5"/>
<line x1="138.6" y1="374" x2="140.4" y2="375.8" stroke="#555" stroke-width="0.45"/>
<line x1="138.6" y1="375.8" x2="140.4" y2="374" stroke="#555" stroke-width="0.45"/>
<circle cx="54" cy="415.9" r="1.45" fill="#000"/>
<circle cx="113.04" cy="406.06" r="1.35" fill="#fff" stroke="#111" stroke-width="0.6"/>
<circle cx="125.27" cy="395.4" r="1.35" fill="#fff" stroke="#111" stroke-width="0.6"/>
<circle cx="137.51" cy="383.1" r="1.35" fill="#fff" stroke="#111" stroke-width="0.6"/>
<circle cx="149.75" cy="350.3" r="1.35" fill="#fff" stroke="#111" stroke-width="0.6"/>
<circle cx="156.91" cy="336.36" r="1.35" fill="#fff" stroke="#111" stroke-width="0.6"/>
<circle cx="161.99" cy="333.9" r="1.35" fill="#fff" stroke="#111" stroke-width="0.6"/>
<circle cx="169.14" cy="333.9" r="1.35" fill="#fff" stroke="#111" stroke-width="0.6"/>
<circle cx="174.22" cy="333.9" r="1.35" fill="#fff" stroke="#111" stroke-width="0.6"/>
<circle cx="186.46" cy="333.9" r="1.35" fill="#fff" stroke="#111" stroke-width="0.6"/>
<circle cx="113.04" cy="403.6" r="1.45" fill="#000"/>
<circle cx="125.27" cy="391.3" r="1.45" fill="#000"/>
<circle cx="137.51" cy="374.9" r="1.45" fill="#000"/>
<circle cx="149.75" cy="350.3" r="1.45" fill="#000"/>
<circle cx="156.91" cy="336.36" r="1.45" fill="#000"/>
<circle cx="161.99" cy="333.9" r="1.45" fill="#000"/>
<circle cx="169.14" cy="333.9" r="1.45" fill="#000"/>
<circle cx="174.22" cy="333.9" r="1.45" fill="#000"/>
<circle cx="186.46" cy="333.9" r="1.45" fill="#000"/>
<rect x="48.6" y="327.3" width="142.6" height="92" fill="none" stroke="#666" stroke-width="0.7"/>
<line x1="45.2" y1="415.9" x2="48.6" y2="415.9" stroke="#5a5a5a" stroke-width="0.6"/>
<text transform="translate(42.8 419.6) scale(0.86 1)" font-size="8.9" text-anchor="end">0</text>
<line x1="45.2" y1="399.5" x2="48.6" y2="399.5" stroke="#5a5a5a" stroke-width="0.6"/>
<text transform="translate(43.6 402.2) scale(0.86 1)" font-size="8.9" text-anchor="end">20</text>
<line x1="45.2" y1="383.1" x2="48.6" y2="383.1" stroke="#5a5a5a" stroke-width="0.6"/>
<text transform="translate(43.6 385.8) scale(0.86 1)" font-size="8.9" text-anchor="end">40</text>
<line x1="45.2" y1="366.7" x2="48.6" y2="366.7" stroke="#5a5a5a" stroke-width="0.6"/>
<text transform="translate(43.6 369.4) scale(0.86 1)" font-size="8.9" text-anchor="end">60</text>
<line x1="45.2" y1="350.3" x2="48.6" y2="350.3" stroke="#5a5a5a" stroke-width="0.6"/>
<text transform="translate(43.6 353) scale(0.86 1)" font-size="8.9" text-anchor="end">80</text>
<line x1="45.2" y1="333.9" x2="48.6" y2="333.9" stroke="#5a5a5a" stroke-width="0.6"/>
<text transform="translate(44.9 336.6) scale(0.86 1)" font-size="8.9" text-anchor="end">100</text>
<line x1="54" y1="419.3" x2="54" y2="422.7" stroke="#5a5a5a" stroke-width="0.6"/>
<text transform="translate(61 431.7) scale(0.86 1)" font-size="8.9" text-anchor="middle">0</text>
<line x1="95.4" y1="419.3" x2="95.4" y2="422.7" stroke="#5a5a5a" stroke-width="0.6"/>
<text transform="translate(101.6 431.7) scale(0.86 1)" font-size="8.9" text-anchor="middle">10</text>
<line x1="136" y1="419.3" x2="136" y2="422.7" stroke="#5a5a5a" stroke-width="0.6"/>
<text transform="translate(142.6 431.7) scale(0.86 1)" font-size="8.9" text-anchor="middle">100</text>
<line x1="176.7" y1="419.3" x2="176.7" y2="422.7" stroke="#5a5a5a" stroke-width="0.6"/>
<text transform="translate(183.4 431.7) scale(0.86 1)" font-size="8.9" text-anchor="middle">1000</text>
<line x1="52.7" y1="338.8" x2="63.1" y2="338.8" stroke="#5a5a5a" stroke-width="0.65"/>
<circle cx="57.9" cy="338.8" r="1.35" fill="#000"/>
<line x1="52.7" y1="349.7" x2="63.1" y2="349.7" stroke="#6a6a6a" stroke-width="0.65" stroke-dasharray="1 0.8"/>
<circle cx="57.9" cy="349.7" r="1.3" fill="#fff" stroke="#111" stroke-width="0.55"/>
<text transform="translate(68.3 341.7) scale(0.88 1)" font-size="8.4" text-anchor="start">G0·30 °C</text>
<text transform="translate(68.3 352.6) scale(0.88 1)" font-size="8.4" text-anchor="start">G0·45 °C</text>
<text transform="translate(21.2 336.2) scale(0.8 1)" font-size="9.4" text-anchor="start" font-weight="bold">J</text>
</g>
<g id="pK">
<line x1="328.5" y1="327.3" x2="328.5" y2="418.6" stroke="#bababa" stroke-width="0.9"/>
<polyline points="229.6,415.15 230.94,415.14 232.28,415.14 233.62,415.13 234.96,415.12 236.3,415.11 237.64,415.1 238.98,415.08 240.32,415.07 241.66,415.05 243,415.03 244.34,415.01 245.68,414.98 247.02,414.96 248.36,414.92 249.7,414.89 251.04,414.85 252.38,414.8 253.72,414.75 255.06,414.7 256.4,414.63 257.74,414.56 259.08,414.48 260.42,414.39 261.76,414.28 263.1,414.16 264.44,414.03 265.78,413.88 267.12,413.72 268.46,413.53 269.8,413.32 271.14,413.08 272.48,412.82 273.82,412.52 275.16,412.19 276.5,411.82 277.84,411.4 279.18,410.93 280.52,410.41 281.86,409.84 283.2,409.19 284.54,408.48 285.88,407.69 287.22,406.82 288.56,405.85 289.9,404.8 291.24,403.64 292.58,402.37 293.92,400.99 295.26,399.49 296.61,397.88 297.95,396.15 299.29,394.29 300.63,392.32 301.97,390.23 303.31,388.03 304.65,385.73 305.99,383.35 307.33,380.89 308.67,378.37 310.01,375.81 311.35,373.22 312.69,370.63 314.03,368.05 315.37,365.5 316.71,363 318.05,360.57 319.39,358.22 320.73,355.96 322.07,353.8 323.41,351.75 324.75,349.82 326.09,348.01 327.43,346.32 328.77,344.75 330.11,343.3 331.45,341.96 332.79,340.74 334.13,339.61 335.47,338.59 336.81,337.66 338.15,336.82 339.49,336.06 340.83,335.37 342.17,334.76 343.51,334.2 344.85,333.7 346.19,333.26 347.53,332.86 348.87,332.5 350.21,332.18 351.55,331.89 352.89,331.64 354.23,331.41 355.57,331.21 356.91,331.03 358.25,330.87 359.59,330.73 360.93,330.61 362.27,330.49" fill="none" stroke="#1a1a1a" stroke-width="0.65"/>
<polyline points="229.6,415.2 230.94,415.2 232.28,415.2 233.62,415.19 234.96,415.19 236.3,415.19 237.64,415.19 238.98,415.19 240.32,415.19 241.66,415.19 243,415.18 244.34,415.18 245.68,415.18 247.02,415.17 248.36,415.17 249.7,415.16 251.04,415.16 252.38,415.15 253.72,415.14 255.06,415.13 256.4,415.12 257.74,415.11 259.08,415.09 260.42,415.08 261.76,415.06 263.1,415.03 264.44,415 265.78,414.97 267.12,414.93 268.46,414.89 269.8,414.83 271.14,414.77 272.48,414.7 273.82,414.62 275.16,414.52 276.5,414.4 277.84,414.27 279.18,414.12 280.52,413.94 281.86,413.73 283.2,413.49 284.54,413.2 285.88,412.87 287.22,412.5 288.56,412.06 289.9,411.55 291.24,410.96 292.58,410.29 293.92,409.52 295.26,408.63 296.61,407.62 297.95,406.47 299.29,405.17 300.63,403.71 301.97,402.07 303.31,400.25 304.65,398.23 305.99,396.01 307.33,393.59 308.67,390.99 310.01,388.2 311.35,385.25 312.69,382.16 314.03,378.96 315.37,375.69 316.71,372.38 318.05,369.07 319.39,365.81 320.73,362.63 322.07,359.57 323.41,356.65 324.75,353.89 326.09,351.32 327.43,348.94 328.77,346.76 330.11,344.78 331.45,342.99 332.79,341.39 334.13,339.96 335.47,338.69 336.81,337.57 338.15,336.58 339.49,335.72 340.83,334.97 342.17,334.31 343.51,333.74 344.85,333.25 346.19,332.82 347.53,332.45 348.87,332.13 350.21,331.86 351.55,331.62 352.89,331.42 354.23,331.24 355.57,331.09 356.91,330.97 358.25,330.86 359.59,330.76 360.93,330.68 362.27,330.61" fill="none" stroke="#1a1a1a" stroke-width="0.65" stroke-dasharray="0.75 0.75"/>
<line x1="309.8" y1="374.4" x2="317.4" y2="374.4" stroke="#555" stroke-width="0.5"/>
<line x1="309.8" y1="373.4" x2="309.8" y2="375.4" stroke="#555" stroke-width="0.5"/>
<line x1="317.4" y1="373.4" x2="317.4" y2="375.4" stroke="#555" stroke-width="0.5"/>
<line x1="312.7" y1="373.5" x2="314.5" y2="375.3" stroke="#555" stroke-width="0.45"/>
<line x1="312.7" y1="375.3" x2="314.5" y2="373.5" stroke="#555" stroke-width="0.45"/>
<line x1="316.5" y1="374.4" x2="319.5" y2="374.4" stroke="#555" stroke-width="0.5"/>
<line x1="316.5" y1="373.4" x2="316.5" y2="375.4" stroke="#555" stroke-width="0.5"/>
<line x1="319.5" y1="373.4" x2="319.5" y2="375.4" stroke="#555" stroke-width="0.5"/>
<line x1="317.1" y1="373.5" x2="318.9" y2="375.3" stroke="#555" stroke-width="0.45"/>
<line x1="317.1" y1="375.3" x2="318.9" y2="373.5" stroke="#555" stroke-width="0.45"/>
<circle cx="229.6" cy="415.2" r="1.45" fill="#000"/>
<circle cx="288.46" cy="407.04" r="1.35" fill="#fff" stroke="#111" stroke-width="0.6"/>
<circle cx="300.71" cy="398.88" r="1.35" fill="#fff" stroke="#111" stroke-width="0.6"/>
<circle cx="312.96" cy="386.64" r="1.35" fill="#fff" stroke="#111" stroke-width="0.6"/>
<circle cx="325.21" cy="354" r="1.35" fill="#fff" stroke="#111" stroke-width="0.6"/>
<circle cx="332.38" cy="337.68" r="1.35" fill="#fff" stroke="#111" stroke-width="0.6"/>
<circle cx="337.47" cy="333.6" r="1.35" fill="#fff" stroke="#111" stroke-width="0.6"/>
<circle cx="344.63" cy="333.6" r="1.35" fill="#fff" stroke="#111" stroke-width="0.6"/>
<circle cx="349.72" cy="333.6" r="1.35" fill="#fff" stroke="#111" stroke-width="0.6"/>
<circle cx="361.97" cy="333.6" r="1.35" fill="#fff" stroke="#111" stroke-width="0.6"/>
<circle cx="288.46" cy="402.96" r="1.45" fill="#000"/>
<circle cx="300.71" cy="390.72" r="1.45" fill="#000"/>
<circle cx="312.96" cy="374.4" r="1.45" fill="#000"/>
<circle cx="325.21" cy="349.92" r="1.45" fill="#000"/>
<circle cx="332.38" cy="337.68" r="1.45" fill="#000"/>
<circle cx="337.47" cy="333.6" r="1.45" fill="#000"/>
<circle cx="344.63" cy="333.6" r="1.45" fill="#000"/>
<circle cx="349.72" cy="333.6" r="1.45" fill="#000"/>
<circle cx="361.97" cy="333.6" r="1.45" fill="#000"/>
<rect x="224.5" y="327.3" width="142.8" height="91.3" fill="none" stroke="#666" stroke-width="0.7"/>
<line x1="221.1" y1="415.2" x2="224.5" y2="415.2" stroke="#5a5a5a" stroke-width="0.6"/>
<text transform="translate(217.2 419.9) scale(0.86 1)" font-size="8.9" text-anchor="end">0</text>
<line x1="221.1" y1="398.88" x2="224.5" y2="398.88" stroke="#5a5a5a" stroke-width="0.6"/>
<text transform="translate(219.5 401.58) scale(0.86 1)" font-size="8.9" text-anchor="end">20</text>
<line x1="221.1" y1="382.56" x2="224.5" y2="382.56" stroke="#5a5a5a" stroke-width="0.6"/>
<text transform="translate(219.5 385.26) scale(0.86 1)" font-size="8.9" text-anchor="end">40</text>
<line x1="221.1" y1="366.24" x2="224.5" y2="366.24" stroke="#5a5a5a" stroke-width="0.6"/>
<text transform="translate(219.5 368.94) scale(0.86 1)" font-size="8.9" text-anchor="end">60</text>
<line x1="221.1" y1="349.92" x2="224.5" y2="349.92" stroke="#5a5a5a" stroke-width="0.6"/>
<text transform="translate(219.5 352.62) scale(0.86 1)" font-size="8.9" text-anchor="end">80</text>
<line x1="221.1" y1="333.6" x2="224.5" y2="333.6" stroke="#5a5a5a" stroke-width="0.6"/>
<text transform="translate(220.8 336.3) scale(0.86 1)" font-size="8.9" text-anchor="end">100</text>
<line x1="229.5" y1="418.6" x2="229.5" y2="422" stroke="#5a5a5a" stroke-width="0.6"/>
<text transform="translate(229.5 432.5) scale(0.86 1)" font-size="8.9" text-anchor="middle">0</text>
<line x1="270.9" y1="418.6" x2="270.9" y2="422" stroke="#5a5a5a" stroke-width="0.6"/>
<text transform="translate(269.9 432.5) scale(0.86 1)" font-size="8.9" text-anchor="middle">10</text>
<line x1="311" y1="418.6" x2="311" y2="422" stroke="#5a5a5a" stroke-width="0.6"/>
<text transform="translate(311 432.5) scale(0.86 1)" font-size="8.9" text-anchor="middle">100</text>
<line x1="351.7" y1="418.6" x2="351.7" y2="422" stroke="#5a5a5a" stroke-width="0.6"/>
<text transform="translate(351.2 432.5) scale(0.86 1)" font-size="8.9" text-anchor="middle">1000</text>
<line x1="227.5" y1="338.8" x2="237.3" y2="338.8" stroke="#5a5a5a" stroke-width="0.65"/>
<circle cx="232.4" cy="338.8" r="1.35" fill="#000"/>
<line x1="227.5" y1="349.5" x2="237.3" y2="349.5" stroke="#6a6a6a" stroke-width="0.65" stroke-dasharray="1 0.8"/>
<circle cx="232.4" cy="349.5" r="1.3" fill="#fff" stroke="#111" stroke-width="0.55"/>
<text transform="translate(243 341.7) scale(0.88 1)" font-size="8.4" text-anchor="start">G1·30 °C</text>
<text transform="translate(243 352.4) scale(0.88 1)" font-size="8.4" text-anchor="start">G1·45 °C</text>
<text transform="translate(196.8 336.2) scale(0.8 1)" font-size="9.4" text-anchor="start" font-weight="bold">K</text>
</g>
<g id="pL">
<line x1="506.5" y1="327.3" x2="506.5" y2="418.4" stroke="#bababa" stroke-width="0.9"/>
<polyline points="407.5,415.55 408.84,415.54 410.17,415.53 411.51,415.52 412.84,415.51 414.18,415.5 415.51,415.49 416.85,415.48 418.18,415.46 419.52,415.44 420.85,415.42 422.19,415.4 423.52,415.37 424.86,415.35 426.19,415.31 427.53,415.28 428.86,415.24 430.2,415.19 431.53,415.14 432.87,415.08 434.2,415.01 435.54,414.94 436.87,414.85 438.21,414.76 439.54,414.65 440.88,414.53 442.21,414.39 443.55,414.24 444.88,414.07 446.22,413.88 447.55,413.66 448.89,413.42 450.22,413.14 451.56,412.84 452.89,412.5 454.23,412.11 455.56,411.69 456.9,411.21 458.23,410.68 459.57,410.09 460.9,409.43 462.24,408.71 463.57,407.9 464.91,407.01 466.24,406.03 467.58,404.96 468.91,403.78 470.25,402.49 471.58,401.09 472.92,399.58 474.25,397.95 475.59,396.19 476.92,394.32 478.26,392.33 479.59,390.23 480.93,388.02 482.26,385.72 483.6,383.32 484.93,380.86 486.27,378.34 487.6,375.78 488.94,373.2 490.27,370.61 491.61,368.04 492.94,365.51 494.28,363.02 495.61,360.61 496.95,358.27 498.28,356.03 499.62,353.89 500.95,351.86 502.29,349.94 503.62,348.15 504.96,346.48 506.29,344.92 507.63,343.48 508.96,342.16 510.3,340.95 511.63,339.84 512.97,338.82 514.3,337.91 515.64,337.07 516.97,336.32 518.31,335.64 519.64,335.02 520.98,334.47 522.31,333.98 523.65,333.54 524.98,333.14 526.32,332.78 527.65,332.47 528.99,332.18 530.32,331.93 531.66,331.71 532.99,331.51 534.33,331.33 535.66,331.17 537,331.03 538.34,330.9 539.67,330.79" fill="none" stroke="#1a1a1a" stroke-width="0.65"/>
<polyline points="407.5,415.6 408.84,415.6 410.17,415.6 411.51,415.6 412.84,415.6 414.18,415.6 415.51,415.6 416.85,415.6 418.18,415.59 419.52,415.59 420.85,415.59 422.19,415.59 423.52,415.59 424.86,415.59 426.19,415.58 427.53,415.58 428.86,415.58 430.2,415.58 431.53,415.57 432.87,415.57 434.2,415.56 435.54,415.55 436.87,415.54 438.21,415.53 439.54,415.52 440.88,415.5 442.21,415.49 443.55,415.47 444.88,415.44 446.22,415.41 447.55,415.38 448.89,415.34 450.22,415.29 451.56,415.24 452.89,415.17 454.23,415.09 455.56,415 456.9,414.89 458.23,414.76 459.57,414.61 460.9,414.44 462.24,414.23 463.57,413.98 464.91,413.69 466.24,413.35 467.58,412.95 468.91,412.49 470.25,411.95 471.58,411.31 472.92,410.58 474.25,409.72 475.59,408.73 476.92,407.6 478.26,406.3 479.59,404.82 480.93,403.14 482.26,401.25 483.6,399.14 484.93,396.81 486.27,394.25 487.6,391.47 488.94,388.48 490.27,385.31 491.61,381.99 492.94,378.56 494.28,375.05 495.61,371.53 496.95,368.04 498.28,364.62 499.62,361.32 500.95,358.18 502.29,355.23 503.62,352.48 504.96,349.96 506.29,347.67 507.63,345.6 508.96,343.74 510.3,342.1 511.63,340.65 512.97,339.38 514.3,338.27 515.64,337.31 516.97,336.48 518.31,335.76 519.64,335.14 520.98,334.61 522.31,334.16 523.65,333.77 524.98,333.44 526.32,333.16 527.65,332.92 528.99,332.72 530.32,332.54 531.66,332.4 532.99,332.27 534.33,332.17 535.66,332.08 537,332 538.34,331.94 539.67,331.88" fill="none" stroke="#1a1a1a" stroke-width="0.65" stroke-dasharray="0.75 0.75"/>
<line x1="487.5" y1="374.75" x2="490.5" y2="374.75" stroke="#555" stroke-width="0.5"/>
<line x1="487.5" y1="373.75" x2="487.5" y2="375.75" stroke="#555" stroke-width="0.5"/>
<line x1="490.5" y1="373.75" x2="490.5" y2="375.75" stroke="#555" stroke-width="0.5"/>
<line x1="488.1" y1="373.85" x2="489.9" y2="375.65" stroke="#555" stroke-width="0.45"/>
<line x1="488.1" y1="375.65" x2="489.9" y2="373.85" stroke="#555" stroke-width="0.45"/>
<line x1="493.5" y1="374.75" x2="496.5" y2="374.75" stroke="#555" stroke-width="0.5"/>
<line x1="493.5" y1="373.75" x2="493.5" y2="375.75" stroke="#555" stroke-width="0.5"/>
<line x1="496.5" y1="373.75" x2="496.5" y2="375.75" stroke="#555" stroke-width="0.5"/>
<line x1="494.1" y1="373.85" x2="495.9" y2="375.65" stroke="#555" stroke-width="0.45"/>
<line x1="494.1" y1="375.65" x2="495.9" y2="373.85" stroke="#555" stroke-width="0.45"/>
<circle cx="407.5" cy="415.6" r="1.45" fill="#000"/>
<circle cx="465.86" cy="409.06" r="1.35" fill="#fff" stroke="#111" stroke-width="0.6"/>
<circle cx="478.11" cy="404.98" r="1.35" fill="#fff" stroke="#111" stroke-width="0.6"/>
<circle cx="490.36" cy="387" r="1.35" fill="#fff" stroke="#111" stroke-width="0.6"/>
<circle cx="502.61" cy="354.32" r="1.35" fill="#fff" stroke="#111" stroke-width="0.6"/>
<circle cx="509.78" cy="343.7" r="1.35" fill="#fff" stroke="#111" stroke-width="0.6"/>
<circle cx="514.87" cy="333.9" r="1.35" fill="#fff" stroke="#111" stroke-width="0.6"/>
<circle cx="522.03" cy="333.9" r="1.35" fill="#fff" stroke="#111" stroke-width="0.6"/>
<circle cx="527.12" cy="333.9" r="1.35" fill="#fff" stroke="#111" stroke-width="0.6"/>
<circle cx="539.37" cy="333.9" r="1.35" fill="#fff" stroke="#111" stroke-width="0.6"/>
<circle cx="465.86" cy="403.35" r="1.45" fill="#000"/>
<circle cx="478.11" cy="391.09" r="1.45" fill="#000"/>
<circle cx="490.36" cy="374.75" r="1.45" fill="#000"/>
<circle cx="502.61" cy="350.24" r="1.45" fill="#000"/>
<circle cx="509.78" cy="337.98" r="1.45" fill="#000"/>
<circle cx="514.87" cy="333.9" r="1.45" fill="#000"/>
<circle cx="522.03" cy="333.9" r="1.45" fill="#000"/>
<circle cx="527.12" cy="333.9" r="1.45" fill="#000"/>
<circle cx="539.37" cy="333.9" r="1.45" fill="#000"/>
<rect x="401.6" y="327.3" width="143.4" height="91.1" fill="none" stroke="#666" stroke-width="0.7"/>
<line x1="398.2" y1="415.6" x2="401.6" y2="415.6" stroke="#5a5a5a" stroke-width="0.6"/>
<text transform="translate(394.5 420.9) scale(0.86 1)" font-size="8.9" text-anchor="end">0</text>
<line x1="398.2" y1="399.26" x2="401.6" y2="399.26" stroke="#5a5a5a" stroke-width="0.6"/>
<text transform="translate(396.6 401.96) scale(0.86 1)" font-size="8.9" text-anchor="end">20</text>
<line x1="398.2" y1="382.92" x2="401.6" y2="382.92" stroke="#5a5a5a" stroke-width="0.6"/>
<text transform="translate(396.6 385.62) scale(0.86 1)" font-size="8.9" text-anchor="end">40</text>
<line x1="398.2" y1="366.58" x2="401.6" y2="366.58" stroke="#5a5a5a" stroke-width="0.6"/>
<text transform="translate(396.6 369.28) scale(0.86 1)" font-size="8.9" text-anchor="end">60</text>
<line x1="398.2" y1="350.24" x2="401.6" y2="350.24" stroke="#5a5a5a" stroke-width="0.6"/>
<text transform="translate(396.6 352.94) scale(0.86 1)" font-size="8.9" text-anchor="end">80</text>
<line x1="398.2" y1="333.9" x2="401.6" y2="333.9" stroke="#5a5a5a" stroke-width="0.6"/>
<text transform="translate(397.9 336.6) scale(0.86 1)" font-size="8.9" text-anchor="end">100</text>
<line x1="407.5" y1="418.4" x2="407.5" y2="421.8" stroke="#5a5a5a" stroke-width="0.6"/>
<text transform="translate(407 432.7) scale(0.86 1)" font-size="8.9" text-anchor="middle">0</text>
<line x1="448.2" y1="418.4" x2="448.2" y2="421.8" stroke="#5a5a5a" stroke-width="0.6"/>
<text transform="translate(447.4 432.7) scale(0.86 1)" font-size="8.9" text-anchor="middle">10</text>
<line x1="488.9" y1="418.4" x2="488.9" y2="421.8" stroke="#5a5a5a" stroke-width="0.6"/>
<text transform="translate(488.4 432.7) scale(0.86 1)" font-size="8.9" text-anchor="middle">100</text>
<line x1="529.6" y1="418.4" x2="529.6" y2="421.8" stroke="#5a5a5a" stroke-width="0.6"/>
<text transform="translate(528.9 432.7) scale(0.86 1)" font-size="8.9" text-anchor="middle">1000</text>
<line x1="403.6" y1="338.8" x2="413.4" y2="338.8" stroke="#5a5a5a" stroke-width="0.65"/>
<circle cx="408.5" cy="338.8" r="1.35" fill="#000"/>
<line x1="403.6" y1="349.5" x2="413.4" y2="349.5" stroke="#6a6a6a" stroke-width="0.65" stroke-dasharray="1 0.8"/>
<circle cx="408.5" cy="349.5" r="1.3" fill="#fff" stroke="#111" stroke-width="0.55"/>
<text transform="translate(419 341.7) scale(0.88 1)" font-size="8.4" text-anchor="start">G2·30 °C</text>
<text transform="translate(419 352.4) scale(0.88 1)" font-size="8.4" text-anchor="start">G2·45 °C</text>
<text transform="translate(372.9 336.2) scale(0.8 1)" font-size="9.4" text-anchor="start" font-weight="bold">L</text>
</g>
<text transform="translate(11.9 55.9) rotate(-90) scale(0.9 1)" font-size="10.8" text-anchor="middle">Florpyrauxifen-benzyl</text>
<text transform="translate(11.9 165.6) rotate(-90) scale(0.9 1)" font-size="10.8" text-anchor="middle">Glufosinate</text>
<text transform="translate(11.9 273.9) rotate(-90) scale(0.9 1)" font-size="10.8" text-anchor="middle">Imazethapyr</text>
<text transform="translate(11.9 381.3) rotate(-90) scale(0.9 1)" font-size="10.8" text-anchor="middle">Quinclorac</text>
<text transform="translate(29.1 49.4) rotate(-90) scale(0.95 1)" font-size="8.5" text-anchor="middle">Control (%)</text>
<text transform="translate(29.1 157.5) rotate(-90) scale(0.95 1)" font-size="8.5" text-anchor="middle">Control (%)</text>
<text transform="translate(29.1 265.8) rotate(-90) scale(0.95 1)" font-size="8.5" text-anchor="middle">Control (%)</text>
<text transform="translate(29.1 373.8) rotate(-90) scale(0.95 1)" font-size="8.5" text-anchor="middle">Control (%)</text>
<text x="116.3" y="441.4" font-size="7.5" text-anchor="middle">Dose (g ha<tspan font-size="4.6" dy="-3">-1</tspan><tspan dy="3">)</tspan></text>
<text x="291.4" y="441.1" font-size="7.5" text-anchor="middle">Dose (g ha<tspan font-size="4.6" dy="-3">-1</tspan><tspan dy="3">)</tspan></text>
<text x="470" y="440.6" font-size="7.5" text-anchor="middle">Dose (g ha<tspan font-size="4.6" dy="-3">-1</tspan><tspan dy="3">)</tspan></text>
</svg>
</body>
</html>
